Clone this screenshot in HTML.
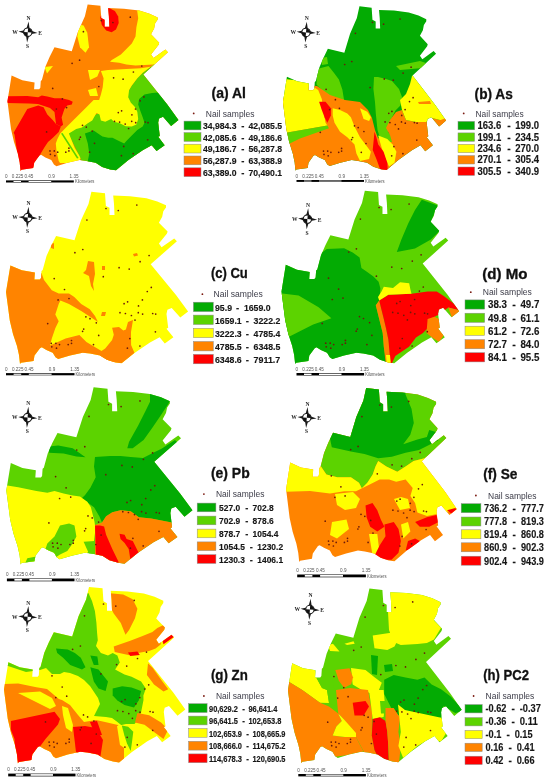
<!DOCTYPE html>
<html><head><meta charset="utf-8"><style>
html,body{margin:0;padding:0;background:#fff;}
svg{display:block;filter:blur(0.35px);}
</style></head><body>
<svg width="550" height="781" viewBox="0 0 550 781" shape-rendering="geometricPrecision">
<rect width="550" height="781" fill="#fff"/>
<clipPath id="clipa"><polygon transform="matrix(0.9391,0,0,0.9673,1.8,-181.13)" points="91.4,191.8 105.0,193.2 105.9,205.9 109.5,207.7 109.5,215.0 114.5,215.0 114.0,204.0 113.2,195.5 130.0,196.2 146.4,198.2 157.3,201.5 166.0,205.3 166.0,207.5 163.3,211.3 162.2,216.7 158.9,222.7 167.6,231.5 167.0,233.6 158.9,243.5 161.6,247.3 174.2,238.5 176.9,241.3 150.7,264.2 176.0,295.0 188.1,311.4 180.3,317.5 171.7,308.0 167.4,309.7 166.5,314.0 168.2,327.8 166.5,328.7 173.4,337.3 164.8,343.4 159.6,337.3 150.0,342.5 134.5,352.9 121.6,363.2 115.5,362.4 106.9,359.8 100.0,355.5 90.0,353.6 82.7,352.7 70.0,355.5 58.2,359.0 55.5,357.3 52.7,352.7 46.4,350.0 41.8,347.3 40.0,348.2 34.5,355.5 33.6,360.9 20.9,362.7 20.0,364.0 19.0,355.0 17.0,346.0 13.0,334.0 9.8,320.5 6.0,292.0 10.4,265.4 21.8,270.3 34.9,272.5 34.4,279.5 39.8,279.5 41.0,278.0 41.5,271.0 42.7,270.0 46.5,256.0 51.0,246.0 56.1,236.1 74.5,240.3 80.9,220.5 88.5,204.0"/></clipPath>
<g clip-path="url(#clipa)">
<rect x="0" y="0" width="550" height="781" fill="#ff8400"/>
<polygon points="153.6,64.5 180.0,60.0 200.0,120.0 200.0,190.0 84.0,190.0 80.5,158.2 68.0,133.0 90.0,118.0 120.0,100.0 129.1,90.0 131.8,85.5 137.3,78.2 142.7,72.7" fill="#5cd300"/>
<polygon points="144.5,94.5 139.1,99.1 138.2,104.5 140.0,110.0 142.7,117.3 144.5,122.7 142.7,126.4 137.3,130.0 131.8,135.5 126.4,140.9 124.2,143.6 118.4,140.7 112.5,137.8 108.2,137.8 102.4,136.4 98.0,133.5 93.6,130.5 89.3,132.0 84.9,133.5 87.8,143.6 89.3,153.8 87.8,161.1 85.0,190.0 200.0,190.0 200.0,100.0 165.0,92.0 152.0,93.0" fill="#03ab03"/>
<polygon points="136.4,5.0 138.2,18.2 136.4,27.3 135.5,36.4 131.8,43.6 126.4,49.1 120.9,54.5 111.8,60.0 110.0,61.8 119.1,62.7 126.4,64.5 135.5,65.5 144.5,65.1 153.6,64.5 175.0,60.0 190.0,30.0 175.0,0.0" fill="#ffff00"/>
<polygon points="55.8,143.6 57.3,139.3 60.2,133.5 66.0,127.6 71.8,121.8 79.1,114.5 84.9,108.7 93.6,100.0 99.1,100.0 100.9,94.5 102.7,87.3 103.6,78.2 100.9,70.9 108.0,70.0 126.4,69.1 140.9,68.2 151.8,66.4 153.6,64.5 142.7,72.7 137.3,78.2 131.8,85.5 129.1,90.0 128.2,97.3 130.9,102.7 134.5,106.4 137.3,111.8 138.2,119.1 136.4,124.5 131.8,126.4 125.6,126.2 119.8,123.3 114.0,121.8 111.1,118.9 105.3,121.8 100.9,120.4 99.5,114.5 96.5,113.1 92.2,120.4 87.8,123.3 82.0,127.6 76.2,129.1 68.9,133.5 71.8,140.7 74.7,148.0 79.1,155.3 80.5,158.2 78.0,163.0 60.0,163.0 58.7,161.1 56.5,150.9" fill="#ffff00"/>
<polygon points="61.0,133.5 62.6,133.0 78.6,158.0 77.0,158.6" fill="#5cd300"/>
<polygon points="88.0,70.0 100.0,70.0 97.3,76.4 90.0,80.0" fill="#ffff00"/>
<polygon points="44.5,67.0 53.0,66.0 47.0,73.5" fill="#ffff00"/>
<polygon points="88.0,90.0 96.0,88.0 98.0,96.0 90.0,96.0" fill="#ffff00"/>
<polygon points="79.0,24.5 83.6,25.5 87.3,32.7 89.0,47.3 85.5,52.7 80.0,47.3 77.3,36.4" fill="#ffff00"/>
<polygon points="0.0,96.4 27.3,96.0 38.2,97.3 41.8,95.5 47.3,96.4 54.5,98.2 61.8,98.2 69.1,100.0 72.7,101.8 71.8,104.5 67.3,105.5 64.5,108.7 61.6,117.5 63.1,124.7 60.9,126.4 56.0,124.0 54.5,112.0 50.0,108.0 44.0,106.0 38.0,104.0 29.0,103.6 0.0,102.7" fill="#ff0000"/>
<polygon points="13.6,132.7 27.3,109.1 38.2,105.5 43.6,107.3 47.3,114.5 52.7,120.0 56.0,124.0 60.9,126.4 58.7,132.0 52.9,137.8 48.0,142.0 44.5,147.3 41.8,151.8 39.0,156.4 36.4,160.0 34.5,165.5 32.7,169.1 20.0,175.0 18.0,158.0 14.5,134.5" fill="#ff0000"/>
<polygon points="100.2,17.5 101.8,25.1 106.2,30.5 111.6,32.2 116.0,29.5 118.7,22.9 118.2,16.4 114.9,10.9 109.5,8.2 104.0,8.0" fill="#ff0000"/>
</g>
<circle cx="101.3" cy="20.6" r="0.85" fill="#6b1a0a"/>
<circle cx="112.9" cy="22.5" r="0.85" fill="#6b1a0a"/>
<circle cx="130.3" cy="17.2" r="0.85" fill="#6b1a0a"/>
<circle cx="83.4" cy="31.7" r="0.85" fill="#6b1a0a"/>
<circle cx="79.6" cy="60.2" r="0.85" fill="#6b1a0a"/>
<circle cx="72.1" cy="63.3" r="0.85" fill="#6b1a0a"/>
<circle cx="141.8" cy="66.0" r="0.85" fill="#6b1a0a"/>
<circle cx="133.4" cy="72.0" r="0.85" fill="#6b1a0a"/>
<circle cx="113.6" cy="77.8" r="0.85" fill="#6b1a0a"/>
<circle cx="123.1" cy="79.2" r="0.85" fill="#6b1a0a"/>
<circle cx="98.8" cy="86.5" r="0.85" fill="#6b1a0a"/>
<circle cx="52.7" cy="88.4" r="0.85" fill="#6b1a0a"/>
<circle cx="143.9" cy="96.9" r="0.85" fill="#6b1a0a"/>
<circle cx="62.4" cy="98.9" r="0.85" fill="#6b1a0a"/>
<circle cx="56.4" cy="109.0" r="0.85" fill="#6b1a0a"/>
<circle cx="66.6" cy="107.6" r="0.85" fill="#6b1a0a"/>
<circle cx="140.1" cy="100.8" r="0.85" fill="#6b1a0a"/>
<circle cx="135.5" cy="109.0" r="0.85" fill="#6b1a0a"/>
<circle cx="118.3" cy="112.6" r="0.85" fill="#6b1a0a"/>
<circle cx="121.6" cy="110.8" r="0.85" fill="#6b1a0a"/>
<circle cx="131.9" cy="114.8" r="0.85" fill="#6b1a0a"/>
<circle cx="114.5" cy="121.3" r="0.85" fill="#6b1a0a"/>
<circle cx="119.6" cy="122.1" r="0.85" fill="#6b1a0a"/>
<circle cx="125.2" cy="124.1" r="0.85" fill="#6b1a0a"/>
<circle cx="131.7" cy="121.3" r="0.85" fill="#6b1a0a"/>
<circle cx="135.7" cy="122.7" r="0.85" fill="#6b1a0a"/>
<circle cx="145.2" cy="122.1" r="0.85" fill="#6b1a0a"/>
<circle cx="148.0" cy="122.7" r="0.85" fill="#6b1a0a"/>
<circle cx="128.6" cy="128.5" r="0.85" fill="#6b1a0a"/>
<circle cx="82.5" cy="125.3" r="0.85" fill="#6b1a0a"/>
<circle cx="86.3" cy="127.1" r="0.85" fill="#6b1a0a"/>
<circle cx="92.2" cy="131.1" r="0.85" fill="#6b1a0a"/>
<circle cx="46.6" cy="131.9" r="0.85" fill="#6b1a0a"/>
<circle cx="80.4" cy="137.2" r="0.85" fill="#6b1a0a"/>
<circle cx="79.4" cy="139.3" r="0.85" fill="#6b1a0a"/>
<circle cx="94.5" cy="143.3" r="0.85" fill="#6b1a0a"/>
<circle cx="147.7" cy="139.8" r="0.85" fill="#6b1a0a"/>
<circle cx="123.7" cy="146.4" r="0.85" fill="#6b1a0a"/>
<circle cx="50.0" cy="150.9" r="0.85" fill="#6b1a0a"/>
<circle cx="54.3" cy="150.9" r="0.85" fill="#6b1a0a"/>
<circle cx="57.7" cy="152.2" r="0.85" fill="#6b1a0a"/>
<circle cx="50.4" cy="154.3" r="0.85" fill="#6b1a0a"/>
<circle cx="54.9" cy="155.7" r="0.85" fill="#6b1a0a"/>
<circle cx="65.8" cy="152.2" r="0.85" fill="#6b1a0a"/>
<circle cx="68.9" cy="148.2" r="0.85" fill="#6b1a0a"/>
<circle cx="68.9" cy="150.9" r="0.85" fill="#6b1a0a"/>
<circle cx="89.6" cy="152.2" r="0.85" fill="#6b1a0a"/>
<circle cx="133.2" cy="153.6" r="0.85" fill="#6b1a0a"/>
<circle cx="121.4" cy="155.7" r="0.85" fill="#6b1a0a"/>
<clipPath id="clipb"><polygon transform="matrix(0.8957,0,0,0.9554,277.6,-176.9)" points="91.4,191.8 105.0,193.2 105.9,205.9 109.5,207.7 109.5,215.0 114.5,215.0 114.0,204.0 113.2,195.5 130.0,196.2 146.4,198.2 157.3,201.5 166.0,205.3 166.0,207.5 163.3,211.3 162.2,216.7 158.9,222.7 167.6,231.5 167.0,233.6 158.9,243.5 161.6,247.3 174.2,238.5 176.9,241.3 150.7,264.2 176.0,295.0 188.1,311.4 180.3,317.5 171.7,308.0 167.4,309.7 166.5,314.0 168.2,327.8 166.5,328.7 173.4,337.3 164.8,343.4 159.6,337.3 150.0,342.5 134.5,352.9 121.6,363.2 115.5,362.4 106.9,359.8 100.0,355.5 90.0,353.6 82.7,352.7 70.0,355.5 58.2,359.0 55.5,357.3 52.7,352.7 46.4,350.0 41.8,347.3 40.0,348.2 34.5,355.5 33.6,360.9 20.9,362.7 20.0,364.0 19.0,355.0 17.0,346.0 13.0,334.0 9.8,320.5 6.0,292.0 10.4,265.4 21.8,270.3 34.9,272.5 34.4,279.5 39.8,279.5 41.0,278.0 41.5,271.0 42.7,270.0 46.5,256.0 51.0,246.0 56.1,236.1 74.5,240.3 80.9,220.5 88.5,204.0"/></clipPath>
<g clip-path="url(#clipb)">
<rect x="0" y="0" width="550" height="781" fill="#03ab03"/>
<polygon points="317.0,69.0 328.5,66.0 333.7,72.5 338.9,79.4 342.4,89.8 344.1,100.2 338.9,103.6 330.3,96.7 321.6,89.8 316.5,84.6" fill="#5cd300"/>
<polygon points="321.0,58.0 327.0,57.0 328.0,64.0 322.0,65.0" fill="#5cd300"/>
<polygon points="374.0,77.0 378.0,77.0 386.0,79.0 392.0,81.0 399.0,89.0 402.0,97.0 400.4,105.5 395.5,110.4 392.2,116.9 388.9,125.1 388.0,132.0 392.0,136.0 392.0,142.0 389.0,144.0 386.0,140.0 380.0,138.0 377.5,130.0 375.8,113.6 375.0,102.2 373.4,89.1" fill="#5cd300"/>
<polygon points="396.0,66.0 420.0,61.0 426.0,63.0 423.0,68.0 400.0,70.0" fill="#5cd300"/>
<polygon points="280.0,100.0 300.0,85.0 317.0,86.0 330.0,95.0 345.0,100.0 360.0,102.0 368.0,110.0 372.0,118.0 375.0,130.0 378.0,138.0 386.0,142.0 392.0,142.0 390.0,135.0 386.0,128.0 390.0,120.0 396.0,112.0 402.0,110.0 406.0,120.0 416.0,122.0 426.0,122.0 432.0,118.0 440.0,120.0 460.0,130.0 440.0,190.0 280.0,190.0" fill="#ff8400"/>
<polygon points="270.0,77.0 307.7,81.8 315.0,88.0 318.2,90.0 321.8,99.1 323.6,111.8 325.5,122.7 327.3,125.5 286.0,132.7 270.0,133.0" fill="#ffff00"/>
<polygon points="270.0,133.0 286.0,132.7 327.3,125.5 329.0,128.2 300.0,138.5 287.7,144.5 270.0,146.0" fill="#5cd300"/>
<polygon points="400.0,100.0 406.0,94.0 410.0,84.0 412.0,76.0 420.0,72.0 440.0,100.0 450.0,120.0 440.0,120.0 432.0,118.0 426.0,122.0 416.0,122.0 406.0,120.0 402.0,110.0" fill="#ffff00"/>
<polygon points="438.0,121.0 446.0,118.0 450.0,124.0 441.0,128.0" fill="#ff8400"/>
<polygon points="418.0,102.0 430.0,101.0 431.0,104.0 419.0,104.0" fill="#ff8400"/>
<polygon points="332.7,108.2 340.0,110.0 347.3,113.6 350.9,117.3 354.5,126.4 360.0,137.3 365.5,144.5 370.9,151.8 369.1,159.1 360.0,160.9 356.4,153.6 354.5,144.5 347.3,137.3 340.0,131.8 334.5,122.7 332.7,115.5" fill="#ffff00"/>
<polygon points="360.0,108.2 367.3,111.8 370.9,117.3 369.1,120.9 363.6,119.1" fill="#ffff00"/>
<polygon points="378.2,135.5 387.3,139.1 392.7,144.5 396.4,151.8 394.5,162.7 389.1,166.4 385.5,159.1 381.8,148.2" fill="#ffff00"/>
<polygon points="319.1,101.8 325.5,101.8 330.9,108.2 330.9,115.5 327.3,122.7 324.5,117.3 321.8,110.0" fill="#ff0000"/>
<polygon points="374.5,131.8 376.4,137.3 378.2,144.5 383.6,151.8 387.3,162.7 388.0,174.0 381.8,174.0 376.4,159.1 372.7,150.0 373.6,140.9" fill="#ff0000"/>
</g>
<circle cx="372.5" cy="22.3" r="0.85" fill="#6b1a0a"/>
<circle cx="383.6" cy="24.2" r="0.85" fill="#6b1a0a"/>
<circle cx="400.1" cy="19.0" r="0.85" fill="#6b1a0a"/>
<circle cx="355.4" cy="33.3" r="0.85" fill="#6b1a0a"/>
<circle cx="351.8" cy="61.5" r="0.85" fill="#6b1a0a"/>
<circle cx="344.7" cy="64.5" r="0.85" fill="#6b1a0a"/>
<circle cx="411.1" cy="67.2" r="0.85" fill="#6b1a0a"/>
<circle cx="403.1" cy="73.1" r="0.85" fill="#6b1a0a"/>
<circle cx="384.3" cy="78.9" r="0.85" fill="#6b1a0a"/>
<circle cx="393.3" cy="80.2" r="0.85" fill="#6b1a0a"/>
<circle cx="370.1" cy="87.5" r="0.85" fill="#6b1a0a"/>
<circle cx="326.1" cy="89.3" r="0.85" fill="#6b1a0a"/>
<circle cx="413.1" cy="97.7" r="0.85" fill="#6b1a0a"/>
<circle cx="335.4" cy="99.7" r="0.85" fill="#6b1a0a"/>
<circle cx="329.6" cy="109.6" r="0.85" fill="#6b1a0a"/>
<circle cx="339.4" cy="108.3" r="0.85" fill="#6b1a0a"/>
<circle cx="409.5" cy="101.6" r="0.85" fill="#6b1a0a"/>
<circle cx="405.1" cy="109.6" r="0.85" fill="#6b1a0a"/>
<circle cx="388.8" cy="113.3" r="0.85" fill="#6b1a0a"/>
<circle cx="391.9" cy="111.4" r="0.85" fill="#6b1a0a"/>
<circle cx="401.7" cy="115.4" r="0.85" fill="#6b1a0a"/>
<circle cx="385.1" cy="121.9" r="0.85" fill="#6b1a0a"/>
<circle cx="389.9" cy="122.6" r="0.85" fill="#6b1a0a"/>
<circle cx="395.3" cy="124.5" r="0.85" fill="#6b1a0a"/>
<circle cx="401.5" cy="121.9" r="0.85" fill="#6b1a0a"/>
<circle cx="405.3" cy="123.2" r="0.85" fill="#6b1a0a"/>
<circle cx="414.4" cy="122.6" r="0.85" fill="#6b1a0a"/>
<circle cx="417.1" cy="123.2" r="0.85" fill="#6b1a0a"/>
<circle cx="398.5" cy="128.9" r="0.85" fill="#6b1a0a"/>
<circle cx="354.5" cy="125.8" r="0.85" fill="#6b1a0a"/>
<circle cx="358.2" cy="127.6" r="0.85" fill="#6b1a0a"/>
<circle cx="363.9" cy="131.5" r="0.85" fill="#6b1a0a"/>
<circle cx="320.3" cy="132.3" r="0.85" fill="#6b1a0a"/>
<circle cx="352.6" cy="137.5" r="0.85" fill="#6b1a0a"/>
<circle cx="351.6" cy="139.6" r="0.85" fill="#6b1a0a"/>
<circle cx="366.0" cy="143.5" r="0.85" fill="#6b1a0a"/>
<circle cx="416.8" cy="140.1" r="0.85" fill="#6b1a0a"/>
<circle cx="393.9" cy="146.6" r="0.85" fill="#6b1a0a"/>
<circle cx="323.5" cy="151.1" r="0.85" fill="#6b1a0a"/>
<circle cx="327.7" cy="151.1" r="0.85" fill="#6b1a0a"/>
<circle cx="330.9" cy="152.3" r="0.85" fill="#6b1a0a"/>
<circle cx="324.0" cy="154.4" r="0.85" fill="#6b1a0a"/>
<circle cx="328.2" cy="155.8" r="0.85" fill="#6b1a0a"/>
<circle cx="338.7" cy="152.3" r="0.85" fill="#6b1a0a"/>
<circle cx="341.6" cy="148.4" r="0.85" fill="#6b1a0a"/>
<circle cx="341.6" cy="151.1" r="0.85" fill="#6b1a0a"/>
<circle cx="361.3" cy="152.3" r="0.85" fill="#6b1a0a"/>
<circle cx="402.9" cy="153.7" r="0.85" fill="#6b1a0a"/>
<circle cx="391.7" cy="155.8" r="0.85" fill="#6b1a0a"/>
<clipPath id="clipc"><polygon transform="matrix(1.0,0,0,1.0,0.0,0.0)" points="91.4,191.8 105.0,193.2 105.9,205.9 109.5,207.7 109.5,215.0 114.5,215.0 114.0,204.0 113.2,195.5 130.0,196.2 146.4,198.2 157.3,201.5 166.0,205.3 166.0,207.5 163.3,211.3 162.2,216.7 158.9,222.7 167.6,231.5 167.0,233.6 158.9,243.5 161.6,247.3 174.2,238.5 176.9,241.3 150.7,264.2 176.0,295.0 188.1,311.4 180.3,317.5 171.7,308.0 167.4,309.7 166.5,314.0 168.2,327.8 166.5,328.7 173.4,337.3 164.8,343.4 159.6,337.3 150.0,342.5 134.5,352.9 121.6,363.2 115.5,362.4 106.9,359.8 100.0,355.5 90.0,353.6 82.7,352.7 70.0,355.5 58.2,359.0 55.5,357.3 52.7,352.7 46.4,350.0 41.8,347.3 40.0,348.2 34.5,355.5 33.6,360.9 20.9,362.7 20.0,364.0 19.0,355.0 17.0,346.0 13.0,334.0 9.8,320.5 6.0,292.0 10.4,265.4 21.8,270.3 34.9,272.5 34.4,279.5 39.8,279.5 41.0,278.0 41.5,271.0 42.7,270.0 46.5,256.0 51.0,246.0 56.1,236.1 74.5,240.3 80.9,220.5 88.5,204.0"/></clipPath>
<g clip-path="url(#clipc)">
<rect x="0" y="0" width="550" height="781" fill="#ffff00"/>
<polygon points="0.0,260.0 41.5,272.9 44.0,280.0 51.8,290.2 58.7,293.6 69.0,293.6 74.3,297.1 81.2,304.0 89.8,309.2 95.0,316.0 98.0,322.0 92.0,318.0 81.2,310.9 69.0,304.0 60.4,300.5 58.7,304.0 55.3,314.4 58.7,321.3 55.3,328.2 51.8,338.5 50.0,345.4 65.6,338.5 79.4,335.0 86.4,342.0 103.6,352.3 114.0,359.3 114.0,370.0 0.0,370.0" fill="#ff8400"/>
<polygon points="100.0,352.0 105.2,348.6 112.1,339.9 113.8,334.7 112.1,327.8 119.0,327.0 123.3,330.4 125.9,329.5 128.0,322.0 133.0,320.0 131.0,332.0 131.1,345.1 134.5,352.9 122.5,363.2 100.0,365.0" fill="#ff8400"/>
<polygon points="88.0,261.0 94.0,262.0 95.0,274.0 93.0,284.0 94.0,291.0 91.0,286.0 89.0,276.0 83.0,273.0 86.0,270.0" fill="#ff8400"/>
<polygon points="51.0,244.0 54.0,243.0 54.0,249.0 51.0,248.0" fill="#ff8400"/>
<polygon points="102.0,312.0 106.0,312.0 105.0,316.0 101.0,316.0" fill="#ff8400"/>
<polygon points="133.0,254.0 137.0,253.0 138.0,255.5 134.0,256.5" fill="#ff8400"/>
<polygon points="102.0,266.0 105.0,266.0 105.0,270.0 102.0,270.0" fill="#ff8400"/>
</g>
<circle cx="106.0" cy="208.5" r="0.85" fill="#6b1a0a"/>
<circle cx="118.3" cy="210.5" r="0.85" fill="#6b1a0a"/>
<circle cx="136.8" cy="205.0" r="0.85" fill="#6b1a0a"/>
<circle cx="86.9" cy="220.0" r="0.85" fill="#6b1a0a"/>
<circle cx="82.8" cy="249.5" r="0.85" fill="#6b1a0a"/>
<circle cx="74.9" cy="252.7" r="0.85" fill="#6b1a0a"/>
<circle cx="149.1" cy="255.5" r="0.85" fill="#6b1a0a"/>
<circle cx="140.1" cy="261.7" r="0.85" fill="#6b1a0a"/>
<circle cx="119.1" cy="267.7" r="0.85" fill="#6b1a0a"/>
<circle cx="129.2" cy="269.1" r="0.85" fill="#6b1a0a"/>
<circle cx="103.3" cy="276.7" r="0.85" fill="#6b1a0a"/>
<circle cx="54.2" cy="278.6" r="0.85" fill="#6b1a0a"/>
<circle cx="151.3" cy="287.4" r="0.85" fill="#6b1a0a"/>
<circle cx="64.5" cy="289.5" r="0.85" fill="#6b1a0a"/>
<circle cx="58.1" cy="299.9" r="0.85" fill="#6b1a0a"/>
<circle cx="69.0" cy="298.5" r="0.85" fill="#6b1a0a"/>
<circle cx="147.3" cy="291.5" r="0.85" fill="#6b1a0a"/>
<circle cx="142.4" cy="299.9" r="0.85" fill="#6b1a0a"/>
<circle cx="124.1" cy="303.7" r="0.85" fill="#6b1a0a"/>
<circle cx="127.6" cy="301.8" r="0.85" fill="#6b1a0a"/>
<circle cx="138.5" cy="305.9" r="0.85" fill="#6b1a0a"/>
<circle cx="120.0" cy="312.7" r="0.85" fill="#6b1a0a"/>
<circle cx="125.4" cy="313.5" r="0.85" fill="#6b1a0a"/>
<circle cx="131.4" cy="315.5" r="0.85" fill="#6b1a0a"/>
<circle cx="138.3" cy="312.7" r="0.85" fill="#6b1a0a"/>
<circle cx="142.6" cy="314.1" r="0.85" fill="#6b1a0a"/>
<circle cx="152.7" cy="313.5" r="0.85" fill="#6b1a0a"/>
<circle cx="155.7" cy="314.1" r="0.85" fill="#6b1a0a"/>
<circle cx="135.0" cy="320.1" r="0.85" fill="#6b1a0a"/>
<circle cx="85.9" cy="316.8" r="0.85" fill="#6b1a0a"/>
<circle cx="90.0" cy="318.7" r="0.85" fill="#6b1a0a"/>
<circle cx="96.3" cy="322.8" r="0.85" fill="#6b1a0a"/>
<circle cx="47.7" cy="323.6" r="0.85" fill="#6b1a0a"/>
<circle cx="83.7" cy="329.1" r="0.85" fill="#6b1a0a"/>
<circle cx="82.6" cy="331.3" r="0.85" fill="#6b1a0a"/>
<circle cx="98.7" cy="335.4" r="0.85" fill="#6b1a0a"/>
<circle cx="155.4" cy="331.8" r="0.85" fill="#6b1a0a"/>
<circle cx="129.8" cy="338.6" r="0.85" fill="#6b1a0a"/>
<circle cx="51.3" cy="343.3" r="0.85" fill="#6b1a0a"/>
<circle cx="55.9" cy="343.3" r="0.85" fill="#6b1a0a"/>
<circle cx="59.5" cy="344.6" r="0.85" fill="#6b1a0a"/>
<circle cx="51.8" cy="346.8" r="0.85" fill="#6b1a0a"/>
<circle cx="56.5" cy="348.2" r="0.85" fill="#6b1a0a"/>
<circle cx="68.2" cy="344.6" r="0.85" fill="#6b1a0a"/>
<circle cx="71.5" cy="340.5" r="0.85" fill="#6b1a0a"/>
<circle cx="71.5" cy="343.3" r="0.85" fill="#6b1a0a"/>
<circle cx="93.5" cy="344.6" r="0.85" fill="#6b1a0a"/>
<circle cx="139.9" cy="346.0" r="0.85" fill="#6b1a0a"/>
<circle cx="127.4" cy="348.2" r="0.85" fill="#6b1a0a"/>
<clipPath id="clipd"><polygon transform="matrix(0.9757,0,0,1.0069,275.64,-2.42)" points="91.4,191.8 105.0,193.2 105.9,205.9 109.5,207.7 109.5,215.0 114.5,215.0 114.0,204.0 113.2,195.5 130.0,196.2 146.4,198.2 157.3,201.5 166.0,205.3 166.0,207.5 163.3,211.3 162.2,216.7 158.9,222.7 167.6,231.5 167.0,233.6 158.9,243.5 161.6,247.3 174.2,238.5 176.9,241.3 150.7,264.2 176.0,295.0 188.1,311.4 180.3,317.5 171.7,308.0 167.4,309.7 166.5,314.0 168.2,327.8 166.5,328.7 173.4,337.3 164.8,343.4 159.6,337.3 150.0,342.5 134.5,352.9 121.6,363.2 115.5,362.4 106.9,359.8 100.0,355.5 90.0,353.6 82.7,352.7 70.0,355.5 58.2,359.0 55.5,357.3 52.7,352.7 46.4,350.0 41.8,347.3 40.0,348.2 34.5,355.5 33.6,360.9 20.9,362.7 20.0,364.0 19.0,355.0 17.0,346.0 13.0,334.0 9.8,320.5 6.0,292.0 10.4,265.4 21.8,270.3 34.9,272.5 34.4,279.5 39.8,279.5 41.0,278.0 41.5,271.0 42.7,270.0 46.5,256.0 51.0,246.0 56.1,236.1 74.5,240.3 80.9,220.5 88.5,204.0"/></clipPath>
<g clip-path="url(#clipd)">
<rect x="0" y="0" width="550" height="781" fill="#5cd300"/>
<polygon points="270.0,261.0 319.9,254.1 326.8,248.9 344.1,248.2 352.7,252.4 359.6,257.5 361.4,267.9 366.5,271.4 373.4,276.5 378.6,281.7 380.4,288.6 379.2,300.6 375.8,305.2 379.2,319.0 382.7,332.9 383.8,346.7 386.0,360.5 386.0,375.0 270.0,375.0" fill="#03ab03"/>
<polygon points="282.3,293.6 298.6,295.5 318.6,307.3 331.4,318.2 313.2,324.5 289.5,336.4 283.2,334.5 270.0,334.0 270.0,293.0" fill="#5cd300"/>
<polygon points="421.8,199.8 437.7,205.5 430.9,221.4 440.0,230.5 430.9,239.5 415.0,248.6 396.8,252.0 401.4,239.5 408.2,223.6 415.0,210.0" fill="#03ab03"/>
<polygon points="375.8,305.2 379.2,300.6 381.5,309.8 383.8,319.0 386.0,328.2 388.4,339.8 390.7,351.3 391.9,366.0 386.0,366.0 383.8,346.7 382.7,332.9 379.2,319.0" fill="#ff8400"/>
<polygon points="379.2,300.6 388.4,294.8 411.5,293.7 427.6,291.4 436.8,291.4 443.7,296.0 453.0,302.9 462.0,311.0 448.3,307.5 439.0,314.4 430.0,319.0 427.6,328.2 423.0,332.9 416.0,337.5 409.0,346.7 402.3,351.3 395.3,356.0 390.7,366.0 388.4,339.8 386.0,328.2 383.8,319.0 381.5,309.8" fill="#ff0000"/>
<polygon points="427.6,319.0 434.5,316.7 439.0,319.0 441.4,328.2 443.7,335.2 439.1,342.1 432.2,337.5 426.5,332.9" fill="#ff8400"/>
<polygon points="448.3,307.5 462.0,311.0 464.0,318.0 452.0,318.0" fill="#ff8400"/>
<polygon points="381.5,291.4 383.8,286.8 393.0,288.0 400.0,282.2 409.2,283.3 410.3,289.1 411.5,293.7 388.4,294.8 379.2,300.6 378.0,297.0" fill="#ffff00"/>
<polygon points="386.0,355.0 390.0,355.0 391.0,366.0 387.0,366.0" fill="#ffff00"/>
</g>
<circle cx="379.1" cy="207.5" r="0.85" fill="#6b1a0a"/>
<circle cx="391.1" cy="209.5" r="0.85" fill="#6b1a0a"/>
<circle cx="409.1" cy="204.0" r="0.85" fill="#6b1a0a"/>
<circle cx="360.4" cy="219.1" r="0.85" fill="#6b1a0a"/>
<circle cx="356.4" cy="248.8" r="0.85" fill="#6b1a0a"/>
<circle cx="348.7" cy="252.0" r="0.85" fill="#6b1a0a"/>
<circle cx="421.1" cy="254.8" r="0.85" fill="#6b1a0a"/>
<circle cx="412.3" cy="261.1" r="0.85" fill="#6b1a0a"/>
<circle cx="391.8" cy="267.1" r="0.85" fill="#6b1a0a"/>
<circle cx="401.7" cy="268.5" r="0.85" fill="#6b1a0a"/>
<circle cx="376.4" cy="276.2" r="0.85" fill="#6b1a0a"/>
<circle cx="328.5" cy="278.1" r="0.85" fill="#6b1a0a"/>
<circle cx="423.3" cy="287.0" r="0.85" fill="#6b1a0a"/>
<circle cx="338.6" cy="289.1" r="0.85" fill="#6b1a0a"/>
<circle cx="332.3" cy="299.5" r="0.85" fill="#6b1a0a"/>
<circle cx="343.0" cy="298.1" r="0.85" fill="#6b1a0a"/>
<circle cx="419.4" cy="291.1" r="0.85" fill="#6b1a0a"/>
<circle cx="414.6" cy="299.5" r="0.85" fill="#6b1a0a"/>
<circle cx="396.7" cy="303.4" r="0.85" fill="#6b1a0a"/>
<circle cx="400.1" cy="301.5" r="0.85" fill="#6b1a0a"/>
<circle cx="410.8" cy="305.6" r="0.85" fill="#6b1a0a"/>
<circle cx="392.7" cy="312.4" r="0.85" fill="#6b1a0a"/>
<circle cx="398.0" cy="313.2" r="0.85" fill="#6b1a0a"/>
<circle cx="403.8" cy="315.3" r="0.85" fill="#6b1a0a"/>
<circle cx="410.6" cy="312.4" r="0.85" fill="#6b1a0a"/>
<circle cx="414.8" cy="313.8" r="0.85" fill="#6b1a0a"/>
<circle cx="424.6" cy="313.2" r="0.85" fill="#6b1a0a"/>
<circle cx="427.6" cy="313.8" r="0.85" fill="#6b1a0a"/>
<circle cx="407.4" cy="319.9" r="0.85" fill="#6b1a0a"/>
<circle cx="359.5" cy="316.6" r="0.85" fill="#6b1a0a"/>
<circle cx="363.5" cy="318.5" r="0.85" fill="#6b1a0a"/>
<circle cx="369.6" cy="322.6" r="0.85" fill="#6b1a0a"/>
<circle cx="322.2" cy="323.4" r="0.85" fill="#6b1a0a"/>
<circle cx="357.3" cy="329.0" r="0.85" fill="#6b1a0a"/>
<circle cx="356.2" cy="331.2" r="0.85" fill="#6b1a0a"/>
<circle cx="371.9" cy="335.3" r="0.85" fill="#6b1a0a"/>
<circle cx="427.3" cy="331.7" r="0.85" fill="#6b1a0a"/>
<circle cx="402.3" cy="338.5" r="0.85" fill="#6b1a0a"/>
<circle cx="325.7" cy="343.2" r="0.85" fill="#6b1a0a"/>
<circle cx="330.2" cy="343.2" r="0.85" fill="#6b1a0a"/>
<circle cx="333.7" cy="344.6" r="0.85" fill="#6b1a0a"/>
<circle cx="326.2" cy="346.8" r="0.85" fill="#6b1a0a"/>
<circle cx="330.8" cy="348.2" r="0.85" fill="#6b1a0a"/>
<circle cx="342.2" cy="344.6" r="0.85" fill="#6b1a0a"/>
<circle cx="345.4" cy="340.4" r="0.85" fill="#6b1a0a"/>
<circle cx="345.4" cy="343.2" r="0.85" fill="#6b1a0a"/>
<circle cx="366.9" cy="344.6" r="0.85" fill="#6b1a0a"/>
<circle cx="412.1" cy="346.0" r="0.85" fill="#6b1a0a"/>
<circle cx="399.9" cy="348.2" r="0.85" fill="#6b1a0a"/>
<clipPath id="clipe"><polygon transform="matrix(1.0223,0,0,1.0284,0.17,190.12)" points="91.4,191.8 105.0,193.2 105.9,205.9 109.5,207.7 109.5,215.0 114.5,215.0 114.0,204.0 113.2,195.5 130.0,196.2 146.4,198.2 157.3,201.5 166.0,205.3 166.0,207.5 163.3,211.3 162.2,216.7 158.9,222.7 167.6,231.5 167.0,233.6 158.9,243.5 161.6,247.3 174.2,238.5 176.9,241.3 150.7,264.2 176.0,295.0 188.1,311.4 180.3,317.5 171.7,308.0 167.4,309.7 166.5,314.0 168.2,327.8 166.5,328.7 173.4,337.3 164.8,343.4 159.6,337.3 150.0,342.5 134.5,352.9 121.6,363.2 115.5,362.4 106.9,359.8 100.0,355.5 90.0,353.6 82.7,352.7 70.0,355.5 58.2,359.0 55.5,357.3 52.7,352.7 46.4,350.0 41.8,347.3 40.0,348.2 34.5,355.5 33.6,360.9 20.9,362.7 20.0,364.0 19.0,355.0 17.0,346.0 13.0,334.0 9.8,320.5 6.0,292.0 10.4,265.4 21.8,270.3 34.9,272.5 34.4,279.5 39.8,279.5 41.0,278.0 41.5,271.0 42.7,270.0 46.5,256.0 51.0,246.0 56.1,236.1 74.5,240.3 80.9,220.5 88.5,204.0"/></clipPath>
<g clip-path="url(#clipe)">
<rect x="0" y="0" width="550" height="781" fill="#5cd300"/>
<polygon points="150.0,388.0 176.0,390.0 170.0,400.9 167.3,405.5 160.0,416.4 152.7,427.3 143.6,440.0 132.7,448.2 127.3,448.2 129.1,441.8 138.2,425.5 145.5,410.9 150.0,401.8" fill="#03ab03"/>
<polygon points="49.1,446.4 58.2,445.5 72.7,448.2 85.5,457.3 76.4,456.4 63.6,453.6 49.1,452.7" fill="#03ab03"/>
<polygon points="95.0,456.9 110.2,455.9 120.5,455.9 130.7,456.9 143.0,457.9 153.3,452.8 161.5,448.7 175.0,440.0 205.0,470.0 205.0,530.0 172.7,526.6 171.7,522.5 161.5,520.4 151.2,518.4 138.9,517.3 130.7,511.2 120.5,510.2 112.3,512.2 106.1,516.3 102.0,522.5 99.3,516.2 94.0,507.3 86.9,502.0 81.5,498.5 85.1,494.9 90.4,487.8 95.7,477.2 94.0,466.5" fill="#03ab03"/>
<polygon points="0.0,485.5 7.3,485.5 18.2,487.3 36.4,490.9 47.3,492.7 54.5,490.9 63.6,493.6 72.7,495.5 80.0,496.4 87.3,501.8 90.9,507.3 92.7,514.5 94.5,521.8 95.5,529.1 94.0,541.0 88.6,551.6 80.0,560.0 60.0,575.0 0.0,575.0" fill="#ffff00"/>
<polygon points="60.0,525.5 69.1,523.6 74.5,525.5 76.4,536.4 72.7,543.6 67.3,550.9 60.0,554.5 54.5,558.2 45.5,549.1 47.3,543.6 54.5,536.4" fill="#5cd300"/>
<polygon points="27.3,558.2 36.4,556.4 41.8,564.5 23.6,567.0" fill="#5cd300"/>
<polygon points="83.6,541.8 94.5,540.9 97.0,552.0 90.0,556.0" fill="#5cd300"/>
<polygon points="102.0,522.5 106.1,516.3 112.3,512.2 120.5,510.2 130.7,511.2 138.9,517.3 151.2,518.4 161.5,520.4 171.7,522.5 172.7,526.6 178.0,530.0 190.0,540.0 160.0,575.0 125.0,575.0 95.0,575.0 95.0,525.0" fill="#ff8400"/>
<polygon points="95.0,525.5 100.0,525.5 104.1,526.6 106.1,534.8 112.3,549.1 118.4,561.4 118.0,575.0 100.0,575.0 96.0,557.0" fill="#ff0000"/>
<polygon points="119.5,533.7 124.6,534.8 126.6,538.9 132.8,540.9 138.9,553.2 136.9,559.3 130.7,561.4 128.7,549.1 124.6,543.0 120.5,538.9" fill="#ff0000"/>
</g>
<circle cx="108.5" cy="404.5" r="0.85" fill="#6b1a0a"/>
<circle cx="121.1" cy="406.6" r="0.85" fill="#6b1a0a"/>
<circle cx="140.0" cy="400.9" r="0.85" fill="#6b1a0a"/>
<circle cx="89.0" cy="416.4" r="0.85" fill="#6b1a0a"/>
<circle cx="84.8" cy="446.7" r="0.85" fill="#6b1a0a"/>
<circle cx="76.7" cy="450.0" r="0.85" fill="#6b1a0a"/>
<circle cx="152.6" cy="452.9" r="0.85" fill="#6b1a0a"/>
<circle cx="143.4" cy="459.3" r="0.85" fill="#6b1a0a"/>
<circle cx="121.9" cy="465.4" r="0.85" fill="#6b1a0a"/>
<circle cx="132.3" cy="466.9" r="0.85" fill="#6b1a0a"/>
<circle cx="105.8" cy="474.7" r="0.85" fill="#6b1a0a"/>
<circle cx="55.6" cy="476.6" r="0.85" fill="#6b1a0a"/>
<circle cx="154.8" cy="485.7" r="0.85" fill="#6b1a0a"/>
<circle cx="66.1" cy="487.8" r="0.85" fill="#6b1a0a"/>
<circle cx="59.6" cy="498.5" r="0.85" fill="#6b1a0a"/>
<circle cx="70.7" cy="497.1" r="0.85" fill="#6b1a0a"/>
<circle cx="150.8" cy="489.9" r="0.85" fill="#6b1a0a"/>
<circle cx="145.7" cy="498.5" r="0.85" fill="#6b1a0a"/>
<circle cx="127.0" cy="502.4" r="0.85" fill="#6b1a0a"/>
<circle cx="130.6" cy="500.5" r="0.85" fill="#6b1a0a"/>
<circle cx="141.8" cy="504.7" r="0.85" fill="#6b1a0a"/>
<circle cx="122.8" cy="511.7" r="0.85" fill="#6b1a0a"/>
<circle cx="128.4" cy="512.5" r="0.85" fill="#6b1a0a"/>
<circle cx="134.5" cy="514.6" r="0.85" fill="#6b1a0a"/>
<circle cx="141.6" cy="511.7" r="0.85" fill="#6b1a0a"/>
<circle cx="145.9" cy="513.1" r="0.85" fill="#6b1a0a"/>
<circle cx="156.3" cy="512.5" r="0.85" fill="#6b1a0a"/>
<circle cx="159.3" cy="513.1" r="0.85" fill="#6b1a0a"/>
<circle cx="138.2" cy="519.3" r="0.85" fill="#6b1a0a"/>
<circle cx="88.0" cy="515.9" r="0.85" fill="#6b1a0a"/>
<circle cx="92.2" cy="517.9" r="0.85" fill="#6b1a0a"/>
<circle cx="98.6" cy="522.1" r="0.85" fill="#6b1a0a"/>
<circle cx="48.9" cy="522.9" r="0.85" fill="#6b1a0a"/>
<circle cx="85.7" cy="528.6" r="0.85" fill="#6b1a0a"/>
<circle cx="84.6" cy="530.8" r="0.85" fill="#6b1a0a"/>
<circle cx="101.1" cy="535.0" r="0.85" fill="#6b1a0a"/>
<circle cx="159.0" cy="531.3" r="0.85" fill="#6b1a0a"/>
<circle cx="132.9" cy="538.3" r="0.85" fill="#6b1a0a"/>
<circle cx="52.6" cy="543.2" r="0.85" fill="#6b1a0a"/>
<circle cx="57.3" cy="543.2" r="0.85" fill="#6b1a0a"/>
<circle cx="61.0" cy="544.5" r="0.85" fill="#6b1a0a"/>
<circle cx="53.1" cy="546.8" r="0.85" fill="#6b1a0a"/>
<circle cx="57.9" cy="548.2" r="0.85" fill="#6b1a0a"/>
<circle cx="69.9" cy="544.5" r="0.85" fill="#6b1a0a"/>
<circle cx="73.3" cy="540.3" r="0.85" fill="#6b1a0a"/>
<circle cx="73.3" cy="543.2" r="0.85" fill="#6b1a0a"/>
<circle cx="95.8" cy="544.5" r="0.85" fill="#6b1a0a"/>
<circle cx="143.2" cy="545.9" r="0.85" fill="#6b1a0a"/>
<circle cx="130.4" cy="548.2" r="0.85" fill="#6b1a0a"/>
<clipPath id="clipf"><polygon transform="matrix(0.9374,0,0,1.0099,280.46,194.4)" points="91.4,191.8 105.0,193.2 105.9,205.9 109.5,207.7 109.5,215.0 114.5,215.0 114.0,204.0 113.2,195.5 130.0,196.2 146.4,198.2 157.3,201.5 166.0,205.3 166.0,207.5 163.3,211.3 162.2,216.7 158.9,222.7 167.6,231.5 167.0,233.6 158.9,243.5 161.6,247.3 174.2,238.5 176.9,241.3 150.7,264.2 176.0,295.0 188.1,311.4 180.3,317.5 171.7,308.0 167.4,309.7 166.5,314.0 168.2,327.8 166.5,328.7 173.4,337.3 164.8,343.4 159.6,337.3 150.0,342.5 134.5,352.9 121.6,363.2 115.5,362.4 106.9,359.8 100.0,355.5 90.0,353.6 82.7,352.7 70.0,355.5 58.2,359.0 55.5,357.3 52.7,352.7 46.4,350.0 41.8,347.3 40.0,348.2 34.5,355.5 33.6,360.9 20.9,362.7 20.0,364.0 19.0,355.0 17.0,346.0 13.0,334.0 9.8,320.5 6.0,292.0 10.4,265.4 21.8,270.3 34.9,272.5 34.4,279.5 39.8,279.5 41.0,278.0 41.5,271.0 42.7,270.0 46.5,256.0 51.0,246.0 56.1,236.1 74.5,240.3 80.9,220.5 88.5,204.0"/></clipPath>
<g clip-path="url(#clipf)">
<rect x="0" y="0" width="550" height="781" fill="#ff8400"/>
<polygon points="300.0,430.0 300.0,375.0 470.0,375.0 465.0,470.0 457.3,470.0 432.7,452.7 424.5,458.2 413.6,461.0 405.5,466.4 397.3,471.8 386.4,466.4 378.2,461.0 375.5,466.4 372.7,474.5 367.3,482.7 361.8,488.2 359.0,482.7 350.9,477.3 337.3,477.3 326.4,474.5 321.0,466.4 300.0,466.0" fill="#5cd300"/>
<polygon points="360.0,380.0 405.0,380.0 405.5,394.5 411.5,408.7 413.8,422.9 410.3,434.8 403.2,444.2 417.4,439.5 426.9,437.1 429.2,430.0 436.0,432.0 438.2,440.5 430.0,444.5 419.0,450.0 405.5,452.7 391.8,456.8 378.2,458.2 364.5,454.1 350.9,451.4 331.8,447.3 329.0,433.6 320.0,433.0" fill="#03ab03"/>
<polygon points="280.0,460.0 321.0,466.4 326.4,474.5 337.3,477.3 350.9,477.3 359.0,482.7 361.8,488.2 367.3,482.7 372.7,474.5 375.5,466.4 378.2,461.0 386.4,466.4 397.3,471.8 405.5,466.4 413.6,461.0 424.5,458.2 432.7,452.7 457.3,470.0 470.0,500.0 462.0,512.0 448.2,511.4 438.7,513.7 426.9,516.1 417.4,512.5 415.1,503.1 410.4,496.0 412.7,488.0 405.6,479.5 396.2,481.8 389.1,479.5 379.6,479.5 370.2,484.2 356.0,491.3 344.2,491.3 330.0,493.6 310.0,490.9 280.0,492.0" fill="#ffff00"/>
<polygon points="335.0,494.0 353.0,492.0 360.0,499.0 356.0,508.0 345.0,510.0 337.0,505.0" fill="#ffff00"/>
<polygon points="394.0,499.0 401.0,497.0 408.0,499.0 410.0,508.0 400.0,510.0" fill="#ffff00"/>
<polygon points="332.0,522.0 346.5,519.6 349.0,529.0 337.0,538.5 330.0,535.0" fill="#ffff00"/>
<polygon points="369.0,534.0 377.3,534.0 379.6,552.7 372.5,555.0" fill="#ffff00"/>
<polygon points="401.0,524.4 408.0,522.0 410.4,531.5 403.3,538.5" fill="#ffff00"/>
<polygon points="365.5,505.5 372.5,503.0 377.3,510.2 380.8,519.6 384.4,526.7 377.3,531.5 370.2,526.7 366.6,517.3" fill="#ff0000"/>
<polygon points="384.4,524.4 393.8,522.0 398.5,529.1 400.9,540.9 398.5,552.7 391.5,559.8 382.0,559.8 374.9,555.0 379.6,545.6 385.5,536.2" fill="#ff0000"/>
<polygon points="415.1,522.0 426.9,517.3 436.4,514.9 438.7,522.0 429.3,526.7 419.8,526.7" fill="#ff0000"/>
<polygon points="447.0,510.2 455.3,508.0 459.0,512.0 452.9,514.7" fill="#ff0000"/>
<polygon points="408.0,540.9 415.1,538.5 419.8,540.9 415.1,548.0 405.6,550.4" fill="#ff0000"/>
</g>
<circle cx="379.8" cy="405.0" r="0.85" fill="#6b1a0a"/>
<circle cx="391.4" cy="407.0" r="0.85" fill="#6b1a0a"/>
<circle cx="408.7" cy="401.4" r="0.85" fill="#6b1a0a"/>
<circle cx="361.9" cy="416.6" r="0.85" fill="#6b1a0a"/>
<circle cx="358.1" cy="446.4" r="0.85" fill="#6b1a0a"/>
<circle cx="350.7" cy="449.6" r="0.85" fill="#6b1a0a"/>
<circle cx="420.2" cy="452.4" r="0.85" fill="#6b1a0a"/>
<circle cx="411.8" cy="458.7" r="0.85" fill="#6b1a0a"/>
<circle cx="392.1" cy="464.8" r="0.85" fill="#6b1a0a"/>
<circle cx="401.6" cy="466.2" r="0.85" fill="#6b1a0a"/>
<circle cx="377.3" cy="473.8" r="0.85" fill="#6b1a0a"/>
<circle cx="331.3" cy="475.8" r="0.85" fill="#6b1a0a"/>
<circle cx="422.3" cy="484.6" r="0.85" fill="#6b1a0a"/>
<circle cx="340.9" cy="486.8" r="0.85" fill="#6b1a0a"/>
<circle cx="334.9" cy="497.3" r="0.85" fill="#6b1a0a"/>
<circle cx="345.1" cy="495.9" r="0.85" fill="#6b1a0a"/>
<circle cx="418.5" cy="488.8" r="0.85" fill="#6b1a0a"/>
<circle cx="413.9" cy="497.3" r="0.85" fill="#6b1a0a"/>
<circle cx="396.8" cy="501.1" r="0.85" fill="#6b1a0a"/>
<circle cx="400.1" cy="499.2" r="0.85" fill="#6b1a0a"/>
<circle cx="410.3" cy="503.3" r="0.85" fill="#6b1a0a"/>
<circle cx="392.9" cy="510.2" r="0.85" fill="#6b1a0a"/>
<circle cx="398.0" cy="511.0" r="0.85" fill="#6b1a0a"/>
<circle cx="403.6" cy="513.0" r="0.85" fill="#6b1a0a"/>
<circle cx="410.1" cy="510.2" r="0.85" fill="#6b1a0a"/>
<circle cx="414.1" cy="511.6" r="0.85" fill="#6b1a0a"/>
<circle cx="423.6" cy="511.0" r="0.85" fill="#6b1a0a"/>
<circle cx="426.4" cy="511.6" r="0.85" fill="#6b1a0a"/>
<circle cx="407.0" cy="517.7" r="0.85" fill="#6b1a0a"/>
<circle cx="361.0" cy="514.3" r="0.85" fill="#6b1a0a"/>
<circle cx="364.8" cy="516.3" r="0.85" fill="#6b1a0a"/>
<circle cx="370.7" cy="520.4" r="0.85" fill="#6b1a0a"/>
<circle cx="325.2" cy="521.2" r="0.85" fill="#6b1a0a"/>
<circle cx="358.9" cy="526.8" r="0.85" fill="#6b1a0a"/>
<circle cx="357.9" cy="529.0" r="0.85" fill="#6b1a0a"/>
<circle cx="373.0" cy="533.1" r="0.85" fill="#6b1a0a"/>
<circle cx="426.1" cy="529.5" r="0.85" fill="#6b1a0a"/>
<circle cx="402.1" cy="536.4" r="0.85" fill="#6b1a0a"/>
<circle cx="328.5" cy="541.1" r="0.85" fill="#6b1a0a"/>
<circle cx="332.9" cy="541.1" r="0.85" fill="#6b1a0a"/>
<circle cx="336.2" cy="542.4" r="0.85" fill="#6b1a0a"/>
<circle cx="329.0" cy="544.6" r="0.85" fill="#6b1a0a"/>
<circle cx="333.4" cy="546.0" r="0.85" fill="#6b1a0a"/>
<circle cx="344.4" cy="542.4" r="0.85" fill="#6b1a0a"/>
<circle cx="347.5" cy="538.3" r="0.85" fill="#6b1a0a"/>
<circle cx="347.5" cy="541.1" r="0.85" fill="#6b1a0a"/>
<circle cx="368.1" cy="542.4" r="0.85" fill="#6b1a0a"/>
<circle cx="411.6" cy="543.8" r="0.85" fill="#6b1a0a"/>
<circle cx="399.9" cy="546.0" r="0.85" fill="#6b1a0a"/>
<clipPath id="clipg"><polygon transform="matrix(0.9959,0,0,1.0241,-2.02,390.49)" points="91.4,191.8 105.0,193.2 105.9,205.9 109.5,207.7 109.5,215.0 114.5,215.0 114.0,204.0 113.2,195.5 130.0,196.2 146.4,198.2 157.3,201.5 166.0,205.3 166.0,207.5 163.3,211.3 162.2,216.7 158.9,222.7 167.6,231.5 167.0,233.6 158.9,243.5 161.6,247.3 174.2,238.5 176.9,241.3 150.7,264.2 176.0,295.0 188.1,311.4 180.3,317.5 171.7,308.0 167.4,309.7 166.5,314.0 168.2,327.8 166.5,328.7 173.4,337.3 164.8,343.4 159.6,337.3 150.0,342.5 134.5,352.9 121.6,363.2 115.5,362.4 106.9,359.8 100.0,355.5 90.0,353.6 82.7,352.7 70.0,355.5 58.2,359.0 55.5,357.3 52.7,352.7 46.4,350.0 41.8,347.3 40.0,348.2 34.5,355.5 33.6,360.9 20.9,362.7 20.0,364.0 19.0,355.0 17.0,346.0 13.0,334.0 9.8,320.5 6.0,292.0 10.4,265.4 21.8,270.3 34.9,272.5 34.4,279.5 39.8,279.5 41.0,278.0 41.5,271.0 42.7,270.0 46.5,256.0 51.0,246.0 56.1,236.1 74.5,240.3 80.9,220.5 88.5,204.0"/></clipPath>
<g clip-path="url(#clipg)">
<rect x="0" y="0" width="550" height="781" fill="#ffff00"/>
<polygon points="0.0,620.0 70.0,600.0 88.4,592.9 92.0,600.9 94.9,611.1 96.4,622.7 97.1,632.9 97.8,640.2 96.0,646.0 100.9,653.1 108.0,655.5 112.7,653.1 117.4,655.5 119.8,662.5 115.1,669.6 124.5,674.4 131.6,676.7 141.1,681.5 145.8,688.5 143.4,695.6 143.5,700.0 141.0,712.7 138.4,719.0 133.3,725.5 128.2,726.7 121.8,725.5 117.4,722.0 112.0,718.0 106.0,717.0 100.0,716.5 94.0,716.0 96.0,712.0 100.0,704.0 98.0,698.0 94.0,692.0 90.0,686.0 84.0,680.0 78.0,676.0 70.0,673.0 64.0,672.0 60.0,674.0 52.0,674.0 46.0,668.0 40.0,670.0 33.0,671.0 26.0,672.0 8.0,666.0 0.0,666.0" fill="#5cd300"/>
<polygon points="56.0,648.4 67.8,649.5 74.9,653.1 80.8,657.8 85.5,667.3 82.0,669.6 70.2,664.9 63.1,657.8 57.2,653.1" fill="#03ab03"/>
<polygon points="90.3,655.5 97.4,656.6 98.5,664.9 93.8,664.9" fill="#03ab03"/>
<polygon points="90.3,667.3 98.5,669.6 108.0,681.5 105.6,690.9 98.5,688.5 93.8,681.5" fill="#03ab03"/>
<polygon points="112.7,688.5 122.2,686.2 131.6,687.4 141.1,690.9 138.7,700.4 134.0,707.4 124.5,705.1 117.4,700.4 112.7,695.6" fill="#03ab03"/>
<polygon points="70.0,685.0 80.0,683.0 88.0,690.0 86.0,694.0 76.0,690.0" fill="#ffff00"/>
<polygon points="110.1,593.3 123.2,594.5 132.7,599.2 137.4,608.7 135.0,618.2 129.1,630.0 125.5,634.8 120.8,622.9 113.7,613.4 109.0,604.0" fill="#ff8400"/>
<polygon points="113.7,646.6 130.3,640.7 142.6,636.0 152.4,632.0 157.3,628.0 163.5,625.0 167.0,628.0 162.0,636.0 160.6,644.5 155.6,648.6 149.1,651.1 139.3,652.7 129.5,655.2 114.7,651.9" fill="#ff8400"/>
<polygon points="161.1,636.0 170.6,631.0 178.0,634.0 163.5,644.2" fill="#ff0000"/>
<polygon points="127.9,652.5 137.4,651.4 139.8,654.9 130.3,656.1" fill="#ff0000"/>
<polygon points="148.0,663.2 152.8,668.0 161.1,679.8 168.2,689.3 163.5,691.6 154.0,684.5 146.9,675.0" fill="#ff8400"/>
<polygon points="137.4,713.0 149.2,715.3 161.1,722.4 168.2,729.5 163.5,739.0 154.0,731.9 144.5,724.8 135.0,722.4" fill="#ff8400"/>
<polygon points="0.0,684.0 18.2,683.6 36.4,687.3 47.0,689.0 60.0,700.0 62.0,720.0 55.0,740.0 50.0,755.0 40.0,765.0 0.0,765.0" fill="#ff8400"/>
<polygon points="18.0,693.0 40.0,691.6 52.0,698.0 56.0,706.0 50.0,709.0 40.0,704.0 28.0,698.0" fill="#ffff00"/>
<polygon points="55.0,698.0 62.0,700.0 70.0,705.0 78.0,715.0 84.0,722.0 96.0,720.0 105.0,722.0 118.0,725.0 124.0,740.0 124.0,765.0 60.0,765.0 50.0,755.0 45.0,740.0 58.0,724.5 60.0,719.0" fill="#ff8400"/>
<polygon points="10.9,721.0 54.5,711.8 60.0,719.0 58.0,724.5 45.5,739.0 40.0,746.4 34.5,755.5 32.7,765.0 15.0,765.0 14.5,739.0 10.9,730.0" fill="#ff0000"/>
<polygon points="62.0,706.0 68.0,708.0 73.0,725.0 72.0,732.0 66.0,728.0 63.0,715.0" fill="#ffff00"/>
<polygon points="73.0,727.0 85.0,726.0 96.0,728.0 103.0,740.0 100.0,759.0 85.0,760.0 76.0,752.0" fill="#ff0000"/>
<polygon points="90.0,722.0 97.0,721.0 102.0,735.0 95.0,735.0" fill="#ff0000"/>
<polygon points="117.0,726.0 126.0,724.0 138.0,724.0 142.0,745.0 130.0,752.0 120.0,745.0" fill="#ffff00"/>
<polygon points="121.8,725.5 128.2,726.7 133.3,731.8 132.0,742.0 130.7,750.9 126.9,743.3 124.4,735.6" fill="#5cd300"/>
</g>
<circle cx="103.5" cy="604.0" r="0.85" fill="#6b1a0a"/>
<circle cx="115.8" cy="606.1" r="0.85" fill="#6b1a0a"/>
<circle cx="134.2" cy="600.4" r="0.85" fill="#6b1a0a"/>
<circle cx="84.5" cy="615.8" r="0.85" fill="#6b1a0a"/>
<circle cx="80.4" cy="646.0" r="0.85" fill="#6b1a0a"/>
<circle cx="72.6" cy="649.3" r="0.85" fill="#6b1a0a"/>
<circle cx="146.5" cy="652.1" r="0.85" fill="#6b1a0a"/>
<circle cx="137.5" cy="658.5" r="0.85" fill="#6b1a0a"/>
<circle cx="116.6" cy="664.6" r="0.85" fill="#6b1a0a"/>
<circle cx="126.7" cy="666.1" r="0.85" fill="#6b1a0a"/>
<circle cx="100.9" cy="673.9" r="0.85" fill="#6b1a0a"/>
<circle cx="52.0" cy="675.8" r="0.85" fill="#6b1a0a"/>
<circle cx="148.7" cy="684.8" r="0.85" fill="#6b1a0a"/>
<circle cx="62.2" cy="687.0" r="0.85" fill="#6b1a0a"/>
<circle cx="55.8" cy="697.6" r="0.85" fill="#6b1a0a"/>
<circle cx="66.7" cy="696.2" r="0.85" fill="#6b1a0a"/>
<circle cx="144.7" cy="689.0" r="0.85" fill="#6b1a0a"/>
<circle cx="139.8" cy="697.6" r="0.85" fill="#6b1a0a"/>
<circle cx="121.6" cy="701.5" r="0.85" fill="#6b1a0a"/>
<circle cx="125.1" cy="699.6" r="0.85" fill="#6b1a0a"/>
<circle cx="135.9" cy="703.8" r="0.85" fill="#6b1a0a"/>
<circle cx="117.5" cy="710.7" r="0.85" fill="#6b1a0a"/>
<circle cx="122.9" cy="711.5" r="0.85" fill="#6b1a0a"/>
<circle cx="128.8" cy="713.6" r="0.85" fill="#6b1a0a"/>
<circle cx="135.7" cy="710.7" r="0.85" fill="#6b1a0a"/>
<circle cx="140.0" cy="712.2" r="0.85" fill="#6b1a0a"/>
<circle cx="150.1" cy="711.5" r="0.85" fill="#6b1a0a"/>
<circle cx="153.0" cy="712.2" r="0.85" fill="#6b1a0a"/>
<circle cx="132.4" cy="718.3" r="0.85" fill="#6b1a0a"/>
<circle cx="83.5" cy="714.9" r="0.85" fill="#6b1a0a"/>
<circle cx="87.6" cy="716.9" r="0.85" fill="#6b1a0a"/>
<circle cx="93.9" cy="721.1" r="0.85" fill="#6b1a0a"/>
<circle cx="45.5" cy="721.9" r="0.85" fill="#6b1a0a"/>
<circle cx="81.3" cy="727.5" r="0.85" fill="#6b1a0a"/>
<circle cx="80.2" cy="729.8" r="0.85" fill="#6b1a0a"/>
<circle cx="96.3" cy="734.0" r="0.85" fill="#6b1a0a"/>
<circle cx="152.7" cy="730.3" r="0.85" fill="#6b1a0a"/>
<circle cx="127.2" cy="737.3" r="0.85" fill="#6b1a0a"/>
<circle cx="49.1" cy="742.1" r="0.85" fill="#6b1a0a"/>
<circle cx="53.7" cy="742.1" r="0.85" fill="#6b1a0a"/>
<circle cx="57.2" cy="743.4" r="0.85" fill="#6b1a0a"/>
<circle cx="49.6" cy="745.6" r="0.85" fill="#6b1a0a"/>
<circle cx="54.2" cy="747.1" r="0.85" fill="#6b1a0a"/>
<circle cx="65.9" cy="743.4" r="0.85" fill="#6b1a0a"/>
<circle cx="69.2" cy="739.2" r="0.85" fill="#6b1a0a"/>
<circle cx="69.2" cy="742.1" r="0.85" fill="#6b1a0a"/>
<circle cx="91.1" cy="743.4" r="0.85" fill="#6b1a0a"/>
<circle cx="137.3" cy="744.8" r="0.85" fill="#6b1a0a"/>
<circle cx="124.9" cy="747.1" r="0.85" fill="#6b1a0a"/>
<clipPath id="cliph"><polygon transform="matrix(0.954,0,0,1.0139,282.24,394.07)" points="91.4,191.8 105.0,193.2 105.9,205.9 109.5,207.7 109.5,215.0 114.5,215.0 114.0,204.0 113.2,195.5 130.0,196.2 146.4,198.2 157.3,201.5 166.0,205.3 166.0,207.5 163.3,211.3 162.2,216.7 158.9,222.7 167.6,231.5 167.0,233.6 158.9,243.5 161.6,247.3 174.2,238.5 176.9,241.3 150.7,264.2 176.0,295.0 188.1,311.4 180.3,317.5 171.7,308.0 167.4,309.7 166.5,314.0 168.2,327.8 166.5,328.7 173.4,337.3 164.8,343.4 159.6,337.3 150.0,342.5 134.5,352.9 121.6,363.2 115.5,362.4 106.9,359.8 100.0,355.5 90.0,353.6 82.7,352.7 70.0,355.5 58.2,359.0 55.5,357.3 52.7,352.7 46.4,350.0 41.8,347.3 40.0,348.2 34.5,355.5 33.6,360.9 20.9,362.7 20.0,364.0 19.0,355.0 17.0,346.0 13.0,334.0 9.8,320.5 6.0,292.0 10.4,265.4 21.8,270.3 34.9,272.5 34.4,279.5 39.8,279.5 41.0,278.0 41.5,271.0 42.7,270.0 46.5,256.0 51.0,246.0 56.1,236.1 74.5,240.3 80.9,220.5 88.5,204.0"/></clipPath>
<g clip-path="url(#cliph)">
<rect x="0" y="0" width="550" height="781" fill="#5cd300"/>
<polygon points="383.0,580.0 450.0,590.0 441.1,602.8 438.7,611.1 434.0,620.5 441.1,627.7 434.0,639.5 426.9,643.0 417.4,644.0 400.8,645.0 393.7,642.0 389.0,630.0 388.0,612.0 386.0,598.0" fill="#ffff00"/>
<polygon points="372.7,635.5 390.9,632.7 398.2,639.1 394.5,646.4 387.3,650.0 374.5,648.2" fill="#ffff00"/>
<polygon points="344.5,643.8 353.5,641.3 354.7,643.8 347.1,645.1" fill="#ffff00"/>
<polygon points="328.0,645.0 333.0,643.8 339.5,651.5 330.0,651.0" fill="#ffff00"/>
<polygon points="384.2,679.8 393.7,675.0 405.5,677.4 417.4,679.8 424.5,677.4 431.6,684.5 441.1,689.3 450.6,696.4 464.0,710.6 455.3,713.0 443.5,705.9 441.1,717.7 429.2,717.7 417.4,715.3 405.5,717.7 393.7,713.0 389.0,703.5 384.2,694.0" fill="#03ab03"/>
<polygon points="371.0,655.0 378.0,656.0 377.0,675.0 372.0,674.0" fill="#03ab03"/>
<polygon points="384.0,665.0 392.0,664.0 393.0,671.0 385.0,672.0" fill="#03ab03"/>
<polygon points="351.0,668.0 365.5,670.0 374.5,677.3 381.8,682.7 378.2,691.8 371.0,693.6 361.8,690.0 352.7,684.5" fill="#ffff00"/>
<polygon points="280.0,660.0 300.0,662.0 312.0,666.0 316.0,672.0 316.5,678.0 322.0,688.0 327.0,690.0 329.0,703.0 320.0,702.7 302.3,690.0 287.7,681.0 280.0,681.0" fill="#ffff00"/>
<polygon points="280.0,681.0 287.7,681.0 302.3,690.0 320.0,702.7 329.0,706.4 338.2,713.6 341.8,721.0 336.4,726.4 332.7,735.5 345.0,737.0 356.0,737.0 360.0,745.0 363.6,751.6 345.9,755.2 321.1,758.7 299.8,768.0 280.0,768.0" fill="#ff8400"/>
<polygon points="316.5,678.0 332.0,678.0 334.5,690.0 342.0,704.5 336.5,706.4 329.0,703.0 327.0,690.0 322.0,688.0" fill="#5cd300"/>
<polygon points="335.3,670.1 349.5,668.3 353.0,677.2 351.2,684.3 344.1,687.8 338.8,680.7" fill="#ff8400"/>
<polygon points="336.0,690.0 350.0,688.0 368.0,690.0 372.0,712.0 371.8,735.5 374.5,750.0 383.6,768.0 372.7,768.0 356.0,737.0 343.6,719.0 338.2,713.6" fill="#ff8400"/>
<polygon points="338.2,713.6 343.6,719.0 356.0,733.0 356.0,737.0 345.0,737.0 332.7,735.5 336.4,726.4 341.8,721.0" fill="#ffff00"/>
<polygon points="352.7,702.7 365.5,701.0 369.0,706.4 363.6,715.5 354.5,715.5" fill="#ff0000"/>
<polygon points="369.0,690.0 383.6,690.0 385.0,705.0 383.6,717.0 372.7,719.0 371.0,705.0" fill="#ffff00"/>
<polygon points="380.0,701.0 385.0,701.0 385.5,713.6 381.0,713.6" fill="#5cd300"/>
<polygon points="372.7,719.0 380.0,717.3 385.5,721.0 387.3,731.8 388.2,744.5 389.0,768.0 383.6,768.0 374.5,750.0 371.8,735.5" fill="#ff0000"/>
<polygon points="385.5,708.0 393.7,708.0 400.0,717.7 398.4,731.9 400.8,746.1 398.4,768.0 391.3,768.0 389.0,761.0 388.2,744.5 387.3,731.8 385.5,721.0" fill="#ff8400"/>
<polygon points="398.0,704.5 405.0,710.0 441.1,717.7 448.2,729.5 441.1,741.4 429.2,739.0 417.4,746.1 403.2,758.0 398.4,746.1 400.8,731.9" fill="#ffff00"/>
</g>
<circle cx="383.4" cy="605.5" r="0.85" fill="#6b1a0a"/>
<circle cx="395.1" cy="607.5" r="0.85" fill="#6b1a0a"/>
<circle cx="412.7" cy="601.9" r="0.85" fill="#6b1a0a"/>
<circle cx="365.1" cy="617.1" r="0.85" fill="#6b1a0a"/>
<circle cx="361.2" cy="647.0" r="0.85" fill="#6b1a0a"/>
<circle cx="353.7" cy="650.3" r="0.85" fill="#6b1a0a"/>
<circle cx="424.5" cy="653.1" r="0.85" fill="#6b1a0a"/>
<circle cx="415.9" cy="659.4" r="0.85" fill="#6b1a0a"/>
<circle cx="395.9" cy="665.5" r="0.85" fill="#6b1a0a"/>
<circle cx="405.5" cy="666.9" r="0.85" fill="#6b1a0a"/>
<circle cx="380.8" cy="674.6" r="0.85" fill="#6b1a0a"/>
<circle cx="333.9" cy="676.5" r="0.85" fill="#6b1a0a"/>
<circle cx="426.6" cy="685.5" r="0.85" fill="#6b1a0a"/>
<circle cx="343.8" cy="687.6" r="0.85" fill="#6b1a0a"/>
<circle cx="337.7" cy="698.1" r="0.85" fill="#6b1a0a"/>
<circle cx="348.1" cy="696.7" r="0.85" fill="#6b1a0a"/>
<circle cx="422.8" cy="689.6" r="0.85" fill="#6b1a0a"/>
<circle cx="418.1" cy="698.1" r="0.85" fill="#6b1a0a"/>
<circle cx="400.6" cy="702.0" r="0.85" fill="#6b1a0a"/>
<circle cx="404.0" cy="700.1" r="0.85" fill="#6b1a0a"/>
<circle cx="414.4" cy="704.2" r="0.85" fill="#6b1a0a"/>
<circle cx="396.7" cy="711.1" r="0.85" fill="#6b1a0a"/>
<circle cx="401.9" cy="711.9" r="0.85" fill="#6b1a0a"/>
<circle cx="407.6" cy="714.0" r="0.85" fill="#6b1a0a"/>
<circle cx="414.2" cy="711.1" r="0.85" fill="#6b1a0a"/>
<circle cx="418.3" cy="712.5" r="0.85" fill="#6b1a0a"/>
<circle cx="427.9" cy="711.9" r="0.85" fill="#6b1a0a"/>
<circle cx="430.8" cy="712.5" r="0.85" fill="#6b1a0a"/>
<circle cx="411.0" cy="718.6" r="0.85" fill="#6b1a0a"/>
<circle cx="364.2" cy="715.3" r="0.85" fill="#6b1a0a"/>
<circle cx="368.1" cy="717.2" r="0.85" fill="#6b1a0a"/>
<circle cx="374.1" cy="721.4" r="0.85" fill="#6b1a0a"/>
<circle cx="327.7" cy="722.2" r="0.85" fill="#6b1a0a"/>
<circle cx="362.1" cy="727.7" r="0.85" fill="#6b1a0a"/>
<circle cx="361.0" cy="730.0" r="0.85" fill="#6b1a0a"/>
<circle cx="376.4" cy="734.1" r="0.85" fill="#6b1a0a"/>
<circle cx="430.5" cy="730.5" r="0.85" fill="#6b1a0a"/>
<circle cx="406.1" cy="737.4" r="0.85" fill="#6b1a0a"/>
<circle cx="331.2" cy="742.1" r="0.85" fill="#6b1a0a"/>
<circle cx="335.6" cy="742.1" r="0.85" fill="#6b1a0a"/>
<circle cx="339.0" cy="743.5" r="0.85" fill="#6b1a0a"/>
<circle cx="331.7" cy="745.7" r="0.85" fill="#6b1a0a"/>
<circle cx="336.1" cy="747.1" r="0.85" fill="#6b1a0a"/>
<circle cx="347.3" cy="743.5" r="0.85" fill="#6b1a0a"/>
<circle cx="350.5" cy="739.3" r="0.85" fill="#6b1a0a"/>
<circle cx="350.5" cy="742.1" r="0.85" fill="#6b1a0a"/>
<circle cx="371.4" cy="743.5" r="0.85" fill="#6b1a0a"/>
<circle cx="415.7" cy="744.9" r="0.85" fill="#6b1a0a"/>
<circle cx="403.8" cy="747.1" r="0.85" fill="#6b1a0a"/>
<g transform="translate(27.8,32.2) rotate(4)">
<path d="M0,-10.8 L1.9,-2 L9.8,0 L1.9,2 L0,10.2 L-1.9,2 L-9.4,0 L-1.9,-2 Z" fill="#1a1a1a"/>
<circle r="4.2" fill="#fff" stroke="#1a1a1a" stroke-width="1.1"/>
<path d="M0,0 L0,-4.2 A4.2,4.2 0 0 1 4.2,0 Z" fill="#111"/>
<path d="M0,0 L0,4.2 A4.2,4.2 0 0 1 -4.2,0 Z" fill="#111"/>
</g>
<text x="28.5" y="20.0" font-family="Liberation Serif, serif" font-size="5.6" font-weight="bold" fill="#2a2a2a" text-anchor="middle">N</text>
<text x="27.5" y="47.8" font-family="Liberation Serif, serif" font-size="5.6" font-weight="bold" fill="#2a2a2a" text-anchor="middle">S</text>
<text x="15.1" y="33.9" font-family="Liberation Serif, serif" font-size="5.6" font-weight="bold" fill="#2a2a2a" text-anchor="middle">W</text>
<text x="40.0" y="34.7" font-family="Liberation Serif, serif" font-size="5.6" font-weight="bold" fill="#2a2a2a" text-anchor="middle">E</text>
<rect x="6.0" y="180.4" width="67.8" height="2.1" fill="#000"/>
<rect x="13.5" y="181.0" width="7.5" height="1.0" fill="#fff"/>
<rect x="28.6" y="181.0" width="22.6" height="1.0" fill="#fff"/>
<text x="6.3" y="178.2" font-family="Liberation Sans, sans-serif" font-size="4.6" fill="#555" text-anchor="middle">0</text>
<text x="17.6" y="178.2" font-family="Liberation Sans, sans-serif" font-size="4.6" fill="#555" text-anchor="middle">0.225</text>
<text x="28.9" y="178.2" font-family="Liberation Sans, sans-serif" font-size="4.6" fill="#555" text-anchor="middle">0.45</text>
<text x="51.5" y="178.2" font-family="Liberation Sans, sans-serif" font-size="4.6" fill="#555" text-anchor="middle">0.9</text>
<text x="74.1" y="178.2" font-family="Liberation Sans, sans-serif" font-size="4.6" fill="#555" text-anchor="middle">1.35</text>
<text x="74.9" y="183.1" font-family="Liberation Sans, sans-serif" font-size="4.6" fill="#555" textLength="19.5" lengthAdjust="spacingAndGlyphs">Kilometers</text>
<text x="211.5" y="98.3" font-family="Liberation Sans, sans-serif" font-weight="bold" font-size="14.2" fill="#111" stroke="#111" stroke-width="0.3" textLength="34.4" lengthAdjust="spacingAndGlyphs">(a) Al</text>
<text x="205.8" y="116.6" font-family="Liberation Sans, sans-serif" font-size="8.6" fill="#3c3c48" textLength="48.7" lengthAdjust="spacingAndGlyphs">Nail samples</text>
<circle cx="193.7" cy="113.4" r="0.9" fill="#7a1a10"/>
<rect x="184.0" y="121.1" width="17.0" height="8.8" fill="#03ab03" stroke="#8a8a8a" stroke-width="0.5"/>
<text x="202.9" y="129.2" font-family="Liberation Sans, sans-serif" font-weight="bold" font-size="9.48" fill="#161616" stroke="#161616" stroke-width="0.15" lengthAdjust="spacingAndGlyphs" textLength="33.6">34,984.3</text>
<text x="242.8" y="129.2" font-family="Liberation Sans, sans-serif" font-weight="bold" font-size="9.48" fill="#161616" stroke="#161616" stroke-width="0.15" lengthAdjust="spacingAndGlyphs" text-anchor="middle">-</text>
<text x="248.5" y="129.2" font-family="Liberation Sans, sans-serif" font-weight="bold" font-size="9.48" fill="#161616" stroke="#161616" stroke-width="0.15" lengthAdjust="spacingAndGlyphs" textLength="33.6">42,085.5</text>
<rect x="184.0" y="132.6" width="17.0" height="8.8" fill="#5cd300" stroke="#8a8a8a" stroke-width="0.5"/>
<text x="202.9" y="140.7" font-family="Liberation Sans, sans-serif" font-weight="bold" font-size="9.48" fill="#161616" stroke="#161616" stroke-width="0.15" lengthAdjust="spacingAndGlyphs" textLength="33.6">42,085.6</text>
<text x="242.8" y="140.7" font-family="Liberation Sans, sans-serif" font-weight="bold" font-size="9.48" fill="#161616" stroke="#161616" stroke-width="0.15" lengthAdjust="spacingAndGlyphs" text-anchor="middle">-</text>
<text x="248.5" y="140.7" font-family="Liberation Sans, sans-serif" font-weight="bold" font-size="9.48" fill="#161616" stroke="#161616" stroke-width="0.15" lengthAdjust="spacingAndGlyphs" textLength="33.6">49,186.6</text>
<rect x="184.0" y="144.2" width="17.0" height="8.8" fill="#ffff00" stroke="#8a8a8a" stroke-width="0.5"/>
<text x="202.9" y="152.3" font-family="Liberation Sans, sans-serif" font-weight="bold" font-size="9.48" fill="#161616" stroke="#161616" stroke-width="0.15" lengthAdjust="spacingAndGlyphs" textLength="33.6">49,186.7</text>
<text x="242.8" y="152.3" font-family="Liberation Sans, sans-serif" font-weight="bold" font-size="9.48" fill="#161616" stroke="#161616" stroke-width="0.15" lengthAdjust="spacingAndGlyphs" text-anchor="middle">-</text>
<text x="248.5" y="152.3" font-family="Liberation Sans, sans-serif" font-weight="bold" font-size="9.48" fill="#161616" stroke="#161616" stroke-width="0.15" lengthAdjust="spacingAndGlyphs" textLength="33.6">56,287.8</text>
<rect x="184.0" y="156.0" width="17.0" height="8.8" fill="#ff8400" stroke="#8a8a8a" stroke-width="0.5"/>
<text x="202.9" y="164.1" font-family="Liberation Sans, sans-serif" font-weight="bold" font-size="9.48" fill="#161616" stroke="#161616" stroke-width="0.15" lengthAdjust="spacingAndGlyphs" textLength="33.6">56,287.9</text>
<text x="242.8" y="164.1" font-family="Liberation Sans, sans-serif" font-weight="bold" font-size="9.48" fill="#161616" stroke="#161616" stroke-width="0.15" lengthAdjust="spacingAndGlyphs" text-anchor="middle">-</text>
<text x="248.5" y="164.1" font-family="Liberation Sans, sans-serif" font-weight="bold" font-size="9.48" fill="#161616" stroke="#161616" stroke-width="0.15" lengthAdjust="spacingAndGlyphs" textLength="33.6">63,388.9</text>
<rect x="184.0" y="167.8" width="17.0" height="8.8" fill="#ff0000" stroke="#8a8a8a" stroke-width="0.5"/>
<text x="202.9" y="175.9" font-family="Liberation Sans, sans-serif" font-weight="bold" font-size="9.48" fill="#161616" stroke="#161616" stroke-width="0.15" lengthAdjust="spacingAndGlyphs" textLength="33.6">63,389.0</text>
<text x="242.8" y="175.9" font-family="Liberation Sans, sans-serif" font-weight="bold" font-size="9.48" fill="#161616" stroke="#161616" stroke-width="0.15" lengthAdjust="spacingAndGlyphs" text-anchor="middle">-</text>
<text x="248.5" y="175.9" font-family="Liberation Sans, sans-serif" font-weight="bold" font-size="9.48" fill="#161616" stroke="#161616" stroke-width="0.15" lengthAdjust="spacingAndGlyphs" textLength="33.6">70,490.1</text>
<g transform="translate(306,32.4) rotate(4)">
<path d="M0,-10.8 L1.9,-2 L9.8,0 L1.9,2 L0,10.2 L-1.9,2 L-9.4,0 L-1.9,-2 Z" fill="#1a1a1a"/>
<circle r="4.2" fill="#fff" stroke="#1a1a1a" stroke-width="1.1"/>
<path d="M0,0 L0,-4.2 A4.2,4.2 0 0 1 4.2,0 Z" fill="#111"/>
<path d="M0,0 L0,4.2 A4.2,4.2 0 0 1 -4.2,0 Z" fill="#111"/>
</g>
<text x="306.7" y="20.2" font-family="Liberation Serif, serif" font-size="5.6" font-weight="bold" fill="#2a2a2a" text-anchor="middle">N</text>
<text x="305.7" y="48.0" font-family="Liberation Serif, serif" font-size="5.6" font-weight="bold" fill="#2a2a2a" text-anchor="middle">S</text>
<text x="293.3" y="34.1" font-family="Liberation Serif, serif" font-size="5.6" font-weight="bold" fill="#2a2a2a" text-anchor="middle">W</text>
<text x="318.2" y="34.9" font-family="Liberation Serif, serif" font-size="5.6" font-weight="bold" fill="#2a2a2a" text-anchor="middle">E</text>
<rect x="296.5" y="180.0" width="67.5" height="1.9" fill="#000"/>
<rect x="304.0" y="180.6" width="7.5" height="0.8" fill="#fff"/>
<rect x="319.0" y="180.6" width="22.5" height="0.8" fill="#fff"/>
<text x="296.8" y="177.8" font-family="Liberation Sans, sans-serif" font-size="4.6" fill="#555" text-anchor="middle">0</text>
<text x="308.1" y="177.8" font-family="Liberation Sans, sans-serif" font-size="4.6" fill="#555" text-anchor="middle">0.225</text>
<text x="319.3" y="177.8" font-family="Liberation Sans, sans-serif" font-size="4.6" fill="#555" text-anchor="middle">0.45</text>
<text x="341.8" y="177.8" font-family="Liberation Sans, sans-serif" font-size="4.6" fill="#555" text-anchor="middle">0.9</text>
<text x="364.3" y="177.8" font-family="Liberation Sans, sans-serif" font-size="4.6" fill="#555" text-anchor="middle">1.35</text>
<text x="365.1" y="182.5" font-family="Liberation Sans, sans-serif" font-size="4.6" fill="#555" textLength="19.5" lengthAdjust="spacingAndGlyphs">Kilometers</text>
<text x="474.6" y="99.1" font-family="Liberation Sans, sans-serif" font-weight="bold" font-size="14.2" fill="#111" stroke="#111" stroke-width="0.3" textLength="38.2" lengthAdjust="spacingAndGlyphs">(b) As</text>
<text x="475.5" y="116.6" font-family="Liberation Sans, sans-serif" font-size="8.6" fill="#3c3c48" textLength="48.2" lengthAdjust="spacingAndGlyphs">Nail samples</text>
<circle cx="463.7" cy="113.4" r="0.9" fill="#7a1a10"/>
<rect x="458.0" y="121.4" width="16.6" height="8.4" fill="#03ab03" stroke="#8a8a8a" stroke-width="0.5"/>
<text x="477.5" y="129.1" font-family="Liberation Sans, sans-serif" font-weight="bold" font-size="10.44" fill="#161616" stroke="#161616" stroke-width="0.15" lengthAdjust="spacingAndGlyphs" textLength="23.8">163.6</text>
<text x="509.0" y="129.1" font-family="Liberation Sans, sans-serif" font-weight="bold" font-size="10.44" fill="#161616" stroke="#161616" stroke-width="0.15" lengthAdjust="spacingAndGlyphs" text-anchor="middle">-</text>
<text x="515.3" y="129.1" font-family="Liberation Sans, sans-serif" font-weight="bold" font-size="10.44" fill="#161616" stroke="#161616" stroke-width="0.15" lengthAdjust="spacingAndGlyphs" textLength="23.8">199.0</text>
<rect x="458.0" y="132.9" width="16.6" height="8.4" fill="#5cd300" stroke="#8a8a8a" stroke-width="0.5"/>
<text x="477.5" y="140.6" font-family="Liberation Sans, sans-serif" font-weight="bold" font-size="10.44" fill="#161616" stroke="#161616" stroke-width="0.15" lengthAdjust="spacingAndGlyphs" textLength="23.8">199.1</text>
<text x="509.0" y="140.6" font-family="Liberation Sans, sans-serif" font-weight="bold" font-size="10.44" fill="#161616" stroke="#161616" stroke-width="0.15" lengthAdjust="spacingAndGlyphs" text-anchor="middle">-</text>
<text x="515.3" y="140.6" font-family="Liberation Sans, sans-serif" font-weight="bold" font-size="10.44" fill="#161616" stroke="#161616" stroke-width="0.15" lengthAdjust="spacingAndGlyphs" textLength="23.8">234.5</text>
<rect x="458.0" y="144.3" width="16.6" height="8.4" fill="#ffff00" stroke="#8a8a8a" stroke-width="0.5"/>
<text x="477.5" y="152.0" font-family="Liberation Sans, sans-serif" font-weight="bold" font-size="10.44" fill="#161616" stroke="#161616" stroke-width="0.15" lengthAdjust="spacingAndGlyphs" textLength="23.8">234.6</text>
<text x="509.0" y="152.0" font-family="Liberation Sans, sans-serif" font-weight="bold" font-size="10.44" fill="#161616" stroke="#161616" stroke-width="0.15" lengthAdjust="spacingAndGlyphs" text-anchor="middle">-</text>
<text x="515.3" y="152.0" font-family="Liberation Sans, sans-serif" font-weight="bold" font-size="10.44" fill="#161616" stroke="#161616" stroke-width="0.15" lengthAdjust="spacingAndGlyphs" textLength="23.8">270.0</text>
<rect x="458.0" y="155.6" width="16.6" height="8.4" fill="#ff8400" stroke="#8a8a8a" stroke-width="0.5"/>
<text x="477.5" y="163.3" font-family="Liberation Sans, sans-serif" font-weight="bold" font-size="10.44" fill="#161616" stroke="#161616" stroke-width="0.15" lengthAdjust="spacingAndGlyphs" textLength="23.8">270.1</text>
<text x="509.0" y="163.3" font-family="Liberation Sans, sans-serif" font-weight="bold" font-size="10.44" fill="#161616" stroke="#161616" stroke-width="0.15" lengthAdjust="spacingAndGlyphs" text-anchor="middle">-</text>
<text x="515.3" y="163.3" font-family="Liberation Sans, sans-serif" font-weight="bold" font-size="10.44" fill="#161616" stroke="#161616" stroke-width="0.15" lengthAdjust="spacingAndGlyphs" textLength="23.8">305.4</text>
<rect x="458.0" y="167.0" width="16.6" height="8.4" fill="#ff0000" stroke="#8a8a8a" stroke-width="0.5"/>
<text x="477.5" y="174.7" font-family="Liberation Sans, sans-serif" font-weight="bold" font-size="10.44" fill="#161616" stroke="#161616" stroke-width="0.15" lengthAdjust="spacingAndGlyphs" textLength="23.8">305.5</text>
<text x="509.0" y="174.7" font-family="Liberation Sans, sans-serif" font-weight="bold" font-size="10.44" fill="#161616" stroke="#161616" stroke-width="0.15" lengthAdjust="spacingAndGlyphs" text-anchor="middle">-</text>
<text x="515.3" y="174.7" font-family="Liberation Sans, sans-serif" font-weight="bold" font-size="10.44" fill="#161616" stroke="#161616" stroke-width="0.15" lengthAdjust="spacingAndGlyphs" textLength="23.8">340.9</text>
<g transform="translate(27.8,217.6) rotate(4)">
<path d="M0,-10.8 L1.9,-2 L9.8,0 L1.9,2 L0,10.2 L-1.9,2 L-9.4,0 L-1.9,-2 Z" fill="#1a1a1a"/>
<circle r="4.2" fill="#fff" stroke="#1a1a1a" stroke-width="1.1"/>
<path d="M0,0 L0,-4.2 A4.2,4.2 0 0 1 4.2,0 Z" fill="#111"/>
<path d="M0,0 L0,4.2 A4.2,4.2 0 0 1 -4.2,0 Z" fill="#111"/>
</g>
<text x="28.5" y="205.4" font-family="Liberation Serif, serif" font-size="5.6" font-weight="bold" fill="#2a2a2a" text-anchor="middle">N</text>
<text x="27.5" y="233.2" font-family="Liberation Serif, serif" font-size="5.6" font-weight="bold" fill="#2a2a2a" text-anchor="middle">S</text>
<text x="15.1" y="219.3" font-family="Liberation Serif, serif" font-size="5.6" font-weight="bold" fill="#2a2a2a" text-anchor="middle">W</text>
<text x="40.0" y="220.1" font-family="Liberation Serif, serif" font-size="5.6" font-weight="bold" fill="#2a2a2a" text-anchor="middle">E</text>
<rect x="6.0" y="373.1" width="68.5" height="2.2" fill="#000"/>
<rect x="13.6" y="373.7" width="7.6" height="1.1" fill="#fff"/>
<rect x="28.8" y="373.7" width="22.8" height="1.1" fill="#fff"/>
<text x="6.3" y="370.9" font-family="Liberation Sans, sans-serif" font-size="4.6" fill="#555" text-anchor="middle">0</text>
<text x="17.7" y="370.9" font-family="Liberation Sans, sans-serif" font-size="4.6" fill="#555" text-anchor="middle">0.225</text>
<text x="29.1" y="370.9" font-family="Liberation Sans, sans-serif" font-size="4.6" fill="#555" text-anchor="middle">0.45</text>
<text x="52.0" y="370.9" font-family="Liberation Sans, sans-serif" font-size="4.6" fill="#555" text-anchor="middle">0.9</text>
<text x="74.8" y="370.9" font-family="Liberation Sans, sans-serif" font-size="4.6" fill="#555" text-anchor="middle">1.35</text>
<text x="75.6" y="375.9" font-family="Liberation Sans, sans-serif" font-size="4.6" fill="#555" textLength="19.5" lengthAdjust="spacingAndGlyphs">Kilometers</text>
<text x="210.9" y="278.3" font-family="Liberation Sans, sans-serif" font-weight="bold" font-size="14.2" fill="#111" stroke="#111" stroke-width="0.3" textLength="36.9" lengthAdjust="spacingAndGlyphs">(c) Cu</text>
<text x="213.6" y="297.4" font-family="Liberation Sans, sans-serif" font-size="8.6" fill="#3c3c48" textLength="49.1" lengthAdjust="spacingAndGlyphs">Nail samples</text>
<circle cx="202.4" cy="294.2" r="0.9" fill="#7a1a10"/>
<rect x="193.4" y="302.2" width="19.9" height="9.4" fill="#03ab03" stroke="#8a8a8a" stroke-width="0.5"/>
<text x="215.0" y="310.8" font-family="Liberation Sans, sans-serif" font-weight="bold" font-size="9.58" fill="#161616" stroke="#161616" stroke-width="0.15" lengthAdjust="spacingAndGlyphs" textLength="17.0">95.9</text>
<text x="237.7" y="310.8" font-family="Liberation Sans, sans-serif" font-weight="bold" font-size="9.58" fill="#161616" stroke="#161616" stroke-width="0.15" lengthAdjust="spacingAndGlyphs" text-anchor="middle">-</text>
<text x="243.9" y="310.8" font-family="Liberation Sans, sans-serif" font-weight="bold" font-size="9.58" fill="#161616" stroke="#161616" stroke-width="0.15" lengthAdjust="spacingAndGlyphs" textLength="26.7">1659.0</text>
<rect x="193.4" y="315.1" width="19.9" height="9.4" fill="#5cd300" stroke="#8a8a8a" stroke-width="0.5"/>
<text x="215.0" y="323.7" font-family="Liberation Sans, sans-serif" font-weight="bold" font-size="9.58" fill="#161616" stroke="#161616" stroke-width="0.15" lengthAdjust="spacingAndGlyphs" textLength="26.7">1659.1</text>
<text x="247.4" y="323.7" font-family="Liberation Sans, sans-serif" font-weight="bold" font-size="9.58" fill="#161616" stroke="#161616" stroke-width="0.15" lengthAdjust="spacingAndGlyphs" text-anchor="middle">-</text>
<text x="253.6" y="323.7" font-family="Liberation Sans, sans-serif" font-weight="bold" font-size="9.58" fill="#161616" stroke="#161616" stroke-width="0.15" lengthAdjust="spacingAndGlyphs" textLength="26.7">3222.2</text>
<rect x="193.4" y="328.3" width="19.9" height="9.4" fill="#ffff00" stroke="#8a8a8a" stroke-width="0.5"/>
<text x="215.0" y="336.9" font-family="Liberation Sans, sans-serif" font-weight="bold" font-size="9.58" fill="#161616" stroke="#161616" stroke-width="0.15" lengthAdjust="spacingAndGlyphs" textLength="26.7">3222.3</text>
<text x="247.4" y="336.9" font-family="Liberation Sans, sans-serif" font-weight="bold" font-size="9.58" fill="#161616" stroke="#161616" stroke-width="0.15" lengthAdjust="spacingAndGlyphs" text-anchor="middle">-</text>
<text x="253.6" y="336.9" font-family="Liberation Sans, sans-serif" font-weight="bold" font-size="9.58" fill="#161616" stroke="#161616" stroke-width="0.15" lengthAdjust="spacingAndGlyphs" textLength="26.7">4785.4</text>
<rect x="193.4" y="341.5" width="19.9" height="9.4" fill="#ff8400" stroke="#8a8a8a" stroke-width="0.5"/>
<text x="215.0" y="350.1" font-family="Liberation Sans, sans-serif" font-weight="bold" font-size="9.58" fill="#161616" stroke="#161616" stroke-width="0.15" lengthAdjust="spacingAndGlyphs" textLength="26.7">4785.5</text>
<text x="247.4" y="350.1" font-family="Liberation Sans, sans-serif" font-weight="bold" font-size="9.58" fill="#161616" stroke="#161616" stroke-width="0.15" lengthAdjust="spacingAndGlyphs" text-anchor="middle">-</text>
<text x="253.6" y="350.1" font-family="Liberation Sans, sans-serif" font-weight="bold" font-size="9.58" fill="#161616" stroke="#161616" stroke-width="0.15" lengthAdjust="spacingAndGlyphs" textLength="26.7">6348.5</text>
<rect x="193.4" y="354.4" width="19.9" height="9.4" fill="#ff0000" stroke="#8a8a8a" stroke-width="0.5"/>
<text x="215.0" y="363.0" font-family="Liberation Sans, sans-serif" font-weight="bold" font-size="9.58" fill="#161616" stroke="#161616" stroke-width="0.15" lengthAdjust="spacingAndGlyphs" textLength="26.7">6348.6</text>
<text x="247.4" y="363.0" font-family="Liberation Sans, sans-serif" font-weight="bold" font-size="9.58" fill="#161616" stroke="#161616" stroke-width="0.15" lengthAdjust="spacingAndGlyphs" text-anchor="middle">-</text>
<text x="253.6" y="363.0" font-family="Liberation Sans, sans-serif" font-weight="bold" font-size="9.58" fill="#161616" stroke="#161616" stroke-width="0.15" lengthAdjust="spacingAndGlyphs" textLength="26.7">7911.7</text>
<g transform="translate(307.4,219.1) rotate(4)">
<path d="M0,-10.8 L1.9,-2 L9.8,0 L1.9,2 L0,10.2 L-1.9,2 L-9.4,0 L-1.9,-2 Z" fill="#1a1a1a"/>
<circle r="4.2" fill="#fff" stroke="#1a1a1a" stroke-width="1.1"/>
<path d="M0,0 L0,-4.2 A4.2,4.2 0 0 1 4.2,0 Z" fill="#111"/>
<path d="M0,0 L0,4.2 A4.2,4.2 0 0 1 -4.2,0 Z" fill="#111"/>
</g>
<text x="308.1" y="206.9" font-family="Liberation Serif, serif" font-size="5.6" font-weight="bold" fill="#2a2a2a" text-anchor="middle">N</text>
<text x="307.1" y="234.7" font-family="Liberation Serif, serif" font-size="5.6" font-weight="bold" fill="#2a2a2a" text-anchor="middle">S</text>
<text x="294.7" y="220.8" font-family="Liberation Serif, serif" font-size="5.6" font-weight="bold" fill="#2a2a2a" text-anchor="middle">W</text>
<text x="319.6" y="221.6" font-family="Liberation Serif, serif" font-size="5.6" font-weight="bold" fill="#2a2a2a" text-anchor="middle">E</text>
<rect x="296.5" y="373.0" width="67.6" height="2.5" fill="#000"/>
<rect x="304.0" y="373.6" width="7.5" height="1.4" fill="#fff"/>
<rect x="319.0" y="373.6" width="22.5" height="1.4" fill="#fff"/>
<text x="296.8" y="370.8" font-family="Liberation Sans, sans-serif" font-size="4.6" fill="#555" text-anchor="middle">0</text>
<text x="308.1" y="370.8" font-family="Liberation Sans, sans-serif" font-size="4.6" fill="#555" text-anchor="middle">0.225</text>
<text x="319.3" y="370.8" font-family="Liberation Sans, sans-serif" font-size="4.6" fill="#555" text-anchor="middle">0.45</text>
<text x="341.9" y="370.8" font-family="Liberation Sans, sans-serif" font-size="4.6" fill="#555" text-anchor="middle">0.9</text>
<text x="364.4" y="370.8" font-family="Liberation Sans, sans-serif" font-size="4.6" fill="#555" text-anchor="middle">1.35</text>
<text x="365.2" y="376.1" font-family="Liberation Sans, sans-serif" font-size="4.6" fill="#555" textLength="19.5" lengthAdjust="spacingAndGlyphs">Kilometers</text>
<text x="482.2" y="279.4" font-family="Liberation Sans, sans-serif" font-weight="bold" font-size="14.2" fill="#111" stroke="#111" stroke-width="0.3" textLength="45.3" lengthAdjust="spacingAndGlyphs">(d) Mo</text>
<text x="482.8" y="295.4" font-family="Liberation Sans, sans-serif" font-size="8.6" fill="#3c3c48" textLength="49.1" lengthAdjust="spacingAndGlyphs">Nail samples</text>
<circle cx="470.8" cy="292.2" r="0.9" fill="#7a1a10"/>
<rect x="465.0" y="299.9" width="19.7" height="9.2" fill="#03ab03" stroke="#8a8a8a" stroke-width="0.5"/>
<text x="488.0" y="308.4" font-family="Liberation Sans, sans-serif" font-weight="bold" font-size="10.72" fill="#161616" stroke="#161616" stroke-width="0.15" lengthAdjust="spacingAndGlyphs" textLength="19.0">38.3</text>
<text x="514.1" y="308.4" font-family="Liberation Sans, sans-serif" font-weight="bold" font-size="10.72" fill="#161616" stroke="#161616" stroke-width="0.15" lengthAdjust="spacingAndGlyphs" text-anchor="middle">-</text>
<text x="520.4" y="308.4" font-family="Liberation Sans, sans-serif" font-weight="bold" font-size="10.72" fill="#161616" stroke="#161616" stroke-width="0.15" lengthAdjust="spacingAndGlyphs" textLength="19.0">49.7</text>
<rect x="465.0" y="313.2" width="19.7" height="9.2" fill="#5cd300" stroke="#8a8a8a" stroke-width="0.5"/>
<text x="488.0" y="321.7" font-family="Liberation Sans, sans-serif" font-weight="bold" font-size="10.72" fill="#161616" stroke="#161616" stroke-width="0.15" lengthAdjust="spacingAndGlyphs" textLength="19.0">49.8</text>
<text x="514.1" y="321.7" font-family="Liberation Sans, sans-serif" font-weight="bold" font-size="10.72" fill="#161616" stroke="#161616" stroke-width="0.15" lengthAdjust="spacingAndGlyphs" text-anchor="middle">-</text>
<text x="520.4" y="321.7" font-family="Liberation Sans, sans-serif" font-weight="bold" font-size="10.72" fill="#161616" stroke="#161616" stroke-width="0.15" lengthAdjust="spacingAndGlyphs" textLength="19.0">61.1</text>
<rect x="465.0" y="326.2" width="19.7" height="9.2" fill="#ffff00" stroke="#8a8a8a" stroke-width="0.5"/>
<text x="488.0" y="334.7" font-family="Liberation Sans, sans-serif" font-weight="bold" font-size="10.72" fill="#161616" stroke="#161616" stroke-width="0.15" lengthAdjust="spacingAndGlyphs" textLength="19.0">61.2</text>
<text x="514.1" y="334.7" font-family="Liberation Sans, sans-serif" font-weight="bold" font-size="10.72" fill="#161616" stroke="#161616" stroke-width="0.15" lengthAdjust="spacingAndGlyphs" text-anchor="middle">-</text>
<text x="520.4" y="334.7" font-family="Liberation Sans, sans-serif" font-weight="bold" font-size="10.72" fill="#161616" stroke="#161616" stroke-width="0.15" lengthAdjust="spacingAndGlyphs" textLength="19.0">72.6</text>
<rect x="465.0" y="339.6" width="19.7" height="9.2" fill="#ff8400" stroke="#8a8a8a" stroke-width="0.5"/>
<text x="488.0" y="348.1" font-family="Liberation Sans, sans-serif" font-weight="bold" font-size="10.72" fill="#161616" stroke="#161616" stroke-width="0.15" lengthAdjust="spacingAndGlyphs" textLength="19.0">72.7</text>
<text x="514.1" y="348.1" font-family="Liberation Sans, sans-serif" font-weight="bold" font-size="10.72" fill="#161616" stroke="#161616" stroke-width="0.15" lengthAdjust="spacingAndGlyphs" text-anchor="middle">-</text>
<text x="520.4" y="348.1" font-family="Liberation Sans, sans-serif" font-weight="bold" font-size="10.72" fill="#161616" stroke="#161616" stroke-width="0.15" lengthAdjust="spacingAndGlyphs" textLength="19.0">84.0</text>
<rect x="465.0" y="352.7" width="19.7" height="9.2" fill="#ff0000" stroke="#8a8a8a" stroke-width="0.5"/>
<text x="488.0" y="361.2" font-family="Liberation Sans, sans-serif" font-weight="bold" font-size="10.72" fill="#161616" stroke="#161616" stroke-width="0.15" lengthAdjust="spacingAndGlyphs" textLength="19.0">84.1</text>
<text x="514.1" y="361.2" font-family="Liberation Sans, sans-serif" font-weight="bold" font-size="10.72" fill="#161616" stroke="#161616" stroke-width="0.15" lengthAdjust="spacingAndGlyphs" text-anchor="middle">-</text>
<text x="520.4" y="361.2" font-family="Liberation Sans, sans-serif" font-weight="bold" font-size="10.72" fill="#161616" stroke="#161616" stroke-width="0.15" lengthAdjust="spacingAndGlyphs" textLength="19.0">95.5</text>
<g transform="translate(27.6,417.6) rotate(4)">
<path d="M0,-10.8 L1.9,-2 L9.8,0 L1.9,2 L0,10.2 L-1.9,2 L-9.4,0 L-1.9,-2 Z" fill="#1a1a1a"/>
<circle r="4.2" fill="#fff" stroke="#1a1a1a" stroke-width="1.1"/>
<path d="M0,0 L0,-4.2 A4.2,4.2 0 0 1 4.2,0 Z" fill="#111"/>
<path d="M0,0 L0,4.2 A4.2,4.2 0 0 1 -4.2,0 Z" fill="#111"/>
</g>
<text x="28.3" y="405.4" font-family="Liberation Serif, serif" font-size="5.6" font-weight="bold" fill="#2a2a2a" text-anchor="middle">N</text>
<text x="27.3" y="433.2" font-family="Liberation Serif, serif" font-size="5.6" font-weight="bold" fill="#2a2a2a" text-anchor="middle">S</text>
<text x="14.9" y="419.3" font-family="Liberation Serif, serif" font-size="5.6" font-weight="bold" fill="#2a2a2a" text-anchor="middle">W</text>
<text x="39.8" y="420.1" font-family="Liberation Serif, serif" font-size="5.6" font-weight="bold" fill="#2a2a2a" text-anchor="middle">E</text>
<rect x="6.9" y="578.5" width="67.6" height="2.8" fill="#000"/>
<rect x="14.4" y="579.0" width="7.5" height="1.7" fill="#fff"/>
<rect x="29.4" y="579.0" width="22.5" height="1.7" fill="#fff"/>
<text x="7.2" y="576.3" font-family="Liberation Sans, sans-serif" font-size="4.6" fill="#555" text-anchor="middle">0</text>
<text x="18.5" y="576.3" font-family="Liberation Sans, sans-serif" font-size="4.6" fill="#555" text-anchor="middle">0.225</text>
<text x="29.7" y="576.3" font-family="Liberation Sans, sans-serif" font-size="4.6" fill="#555" text-anchor="middle">0.45</text>
<text x="52.3" y="576.3" font-family="Liberation Sans, sans-serif" font-size="4.6" fill="#555" text-anchor="middle">0.9</text>
<text x="74.8" y="576.3" font-family="Liberation Sans, sans-serif" font-size="4.6" fill="#555" text-anchor="middle">1.35</text>
<text x="75.6" y="581.9" font-family="Liberation Sans, sans-serif" font-size="4.6" fill="#555" textLength="19.5" lengthAdjust="spacingAndGlyphs">Kilometers</text>
<text x="210.9" y="478.3" font-family="Liberation Sans, sans-serif" font-weight="bold" font-size="14.2" fill="#111" stroke="#111" stroke-width="0.3" textLength="38.8" lengthAdjust="spacingAndGlyphs">(e) Pb</text>
<text x="215.9" y="497.3" font-family="Liberation Sans, sans-serif" font-size="8.6" fill="#3c3c48" textLength="48.5" lengthAdjust="spacingAndGlyphs">Nail samples</text>
<circle cx="203.9" cy="494.1" r="0.9" fill="#7a1a10"/>
<rect x="197.2" y="503.1" width="18.7" height="8.7" fill="#03ab03" stroke="#8a8a8a" stroke-width="0.5"/>
<text x="219.1" y="511.1" font-family="Liberation Sans, sans-serif" font-weight="bold" font-size="9.26" fill="#161616" stroke="#161616" stroke-width="0.15" lengthAdjust="spacingAndGlyphs" textLength="21.1">527.0</text>
<text x="246.7" y="511.1" font-family="Liberation Sans, sans-serif" font-weight="bold" font-size="9.26" fill="#161616" stroke="#161616" stroke-width="0.15" lengthAdjust="spacingAndGlyphs" text-anchor="middle">-</text>
<text x="252.6" y="511.1" font-family="Liberation Sans, sans-serif" font-weight="bold" font-size="9.26" fill="#161616" stroke="#161616" stroke-width="0.15" lengthAdjust="spacingAndGlyphs" textLength="21.1">702.8</text>
<rect x="197.2" y="516.1" width="18.7" height="8.7" fill="#5cd300" stroke="#8a8a8a" stroke-width="0.5"/>
<text x="219.1" y="524.1" font-family="Liberation Sans, sans-serif" font-weight="bold" font-size="9.26" fill="#161616" stroke="#161616" stroke-width="0.15" lengthAdjust="spacingAndGlyphs" textLength="21.1">702.9</text>
<text x="246.7" y="524.1" font-family="Liberation Sans, sans-serif" font-weight="bold" font-size="9.26" fill="#161616" stroke="#161616" stroke-width="0.15" lengthAdjust="spacingAndGlyphs" text-anchor="middle">-</text>
<text x="252.6" y="524.1" font-family="Liberation Sans, sans-serif" font-weight="bold" font-size="9.26" fill="#161616" stroke="#161616" stroke-width="0.15" lengthAdjust="spacingAndGlyphs" textLength="21.1">878.6</text>
<rect x="197.2" y="529.1" width="18.7" height="8.7" fill="#ffff00" stroke="#8a8a8a" stroke-width="0.5"/>
<text x="219.1" y="537.1" font-family="Liberation Sans, sans-serif" font-weight="bold" font-size="9.26" fill="#161616" stroke="#161616" stroke-width="0.15" lengthAdjust="spacingAndGlyphs" textLength="21.1">878.7</text>
<text x="246.7" y="537.1" font-family="Liberation Sans, sans-serif" font-weight="bold" font-size="9.26" fill="#161616" stroke="#161616" stroke-width="0.15" lengthAdjust="spacingAndGlyphs" text-anchor="middle">-</text>
<text x="252.6" y="537.1" font-family="Liberation Sans, sans-serif" font-weight="bold" font-size="9.26" fill="#161616" stroke="#161616" stroke-width="0.15" lengthAdjust="spacingAndGlyphs" textLength="25.8">1054.4</text>
<rect x="197.2" y="541.9" width="18.7" height="8.7" fill="#ff8400" stroke="#8a8a8a" stroke-width="0.5"/>
<text x="219.1" y="549.9" font-family="Liberation Sans, sans-serif" font-weight="bold" font-size="9.26" fill="#161616" stroke="#161616" stroke-width="0.15" lengthAdjust="spacingAndGlyphs" textLength="25.8">1054.5</text>
<text x="251.4" y="549.9" font-family="Liberation Sans, sans-serif" font-weight="bold" font-size="9.26" fill="#161616" stroke="#161616" stroke-width="0.15" lengthAdjust="spacingAndGlyphs" text-anchor="middle">-</text>
<text x="257.3" y="549.9" font-family="Liberation Sans, sans-serif" font-weight="bold" font-size="9.26" fill="#161616" stroke="#161616" stroke-width="0.15" lengthAdjust="spacingAndGlyphs" textLength="25.8">1230.2</text>
<rect x="197.2" y="554.7" width="18.7" height="8.7" fill="#ff0000" stroke="#8a8a8a" stroke-width="0.5"/>
<text x="219.1" y="562.7" font-family="Liberation Sans, sans-serif" font-weight="bold" font-size="9.26" fill="#161616" stroke="#161616" stroke-width="0.15" lengthAdjust="spacingAndGlyphs" textLength="25.8">1230.3</text>
<text x="251.4" y="562.7" font-family="Liberation Sans, sans-serif" font-weight="bold" font-size="9.26" fill="#161616" stroke="#161616" stroke-width="0.15" lengthAdjust="spacingAndGlyphs" text-anchor="middle">-</text>
<text x="257.3" y="562.7" font-family="Liberation Sans, sans-serif" font-weight="bold" font-size="9.26" fill="#161616" stroke="#161616" stroke-width="0.15" lengthAdjust="spacingAndGlyphs" textLength="25.8">1406.1</text>
<g transform="translate(306.8,417.7) rotate(4)">
<path d="M0,-10.8 L1.9,-2 L9.8,0 L1.9,2 L0,10.2 L-1.9,2 L-9.4,0 L-1.9,-2 Z" fill="#1a1a1a"/>
<circle r="4.2" fill="#fff" stroke="#1a1a1a" stroke-width="1.1"/>
<path d="M0,0 L0,-4.2 A4.2,4.2 0 0 1 4.2,0 Z" fill="#111"/>
<path d="M0,0 L0,4.2 A4.2,4.2 0 0 1 -4.2,0 Z" fill="#111"/>
</g>
<text x="307.5" y="405.5" font-family="Liberation Serif, serif" font-size="5.6" font-weight="bold" fill="#2a2a2a" text-anchor="middle">N</text>
<text x="306.5" y="433.3" font-family="Liberation Serif, serif" font-size="5.6" font-weight="bold" fill="#2a2a2a" text-anchor="middle">S</text>
<text x="294.1" y="419.4" font-family="Liberation Serif, serif" font-size="5.6" font-weight="bold" fill="#2a2a2a" text-anchor="middle">W</text>
<text x="319.0" y="420.2" font-family="Liberation Serif, serif" font-size="5.6" font-weight="bold" fill="#2a2a2a" text-anchor="middle">E</text>
<rect x="297.2" y="574.5" width="68.7" height="2.8" fill="#000"/>
<rect x="304.8" y="575.0" width="7.6" height="1.7" fill="#fff"/>
<rect x="320.1" y="575.0" width="22.9" height="1.7" fill="#fff"/>
<text x="297.5" y="572.3" font-family="Liberation Sans, sans-serif" font-size="4.6" fill="#555" text-anchor="middle">0</text>
<text x="308.9" y="572.3" font-family="Liberation Sans, sans-serif" font-size="4.6" fill="#555" text-anchor="middle">0.225</text>
<text x="320.4" y="572.3" font-family="Liberation Sans, sans-serif" font-size="4.6" fill="#555" text-anchor="middle">0.45</text>
<text x="343.3" y="572.3" font-family="Liberation Sans, sans-serif" font-size="4.6" fill="#555" text-anchor="middle">0.9</text>
<text x="366.2" y="572.3" font-family="Liberation Sans, sans-serif" font-size="4.6" fill="#555" text-anchor="middle">1.35</text>
<text x="367.0" y="577.9" font-family="Liberation Sans, sans-serif" font-size="4.6" fill="#555" textLength="19.5" lengthAdjust="spacingAndGlyphs">Kilometers</text>
<text x="483.2" y="478.9" font-family="Liberation Sans, sans-serif" font-weight="bold" font-size="14.2" fill="#111" stroke="#111" stroke-width="0.3" textLength="34.3" lengthAdjust="spacingAndGlyphs">(f) Se</text>
<text x="488.0" y="498.7" font-family="Liberation Sans, sans-serif" font-size="8.6" fill="#3c3c48" textLength="48.6" lengthAdjust="spacingAndGlyphs">Nail samples</text>
<circle cx="475.9" cy="495.5" r="0.9" fill="#7a1a10"/>
<rect x="461.2" y="503.7" width="19.7" height="9.0" fill="#03ab03" stroke="#8a8a8a" stroke-width="0.5"/>
<text x="484.1" y="512.0" font-family="Liberation Sans, sans-serif" font-weight="bold" font-size="10.04" fill="#161616" stroke="#161616" stroke-width="0.15" lengthAdjust="spacingAndGlyphs" textLength="22.9">736.2</text>
<text x="514.1" y="512.0" font-family="Liberation Sans, sans-serif" font-weight="bold" font-size="10.04" fill="#161616" stroke="#161616" stroke-width="0.15" lengthAdjust="spacingAndGlyphs" text-anchor="middle">-</text>
<text x="521.0" y="512.0" font-family="Liberation Sans, sans-serif" font-weight="bold" font-size="10.04" fill="#161616" stroke="#161616" stroke-width="0.15" lengthAdjust="spacingAndGlyphs" textLength="22.9">777.7</text>
<rect x="461.2" y="517.0" width="19.7" height="9.0" fill="#5cd300" stroke="#8a8a8a" stroke-width="0.5"/>
<text x="484.1" y="525.3" font-family="Liberation Sans, sans-serif" font-weight="bold" font-size="10.04" fill="#161616" stroke="#161616" stroke-width="0.15" lengthAdjust="spacingAndGlyphs" textLength="22.9">777.8</text>
<text x="514.1" y="525.3" font-family="Liberation Sans, sans-serif" font-weight="bold" font-size="10.04" fill="#161616" stroke="#161616" stroke-width="0.15" lengthAdjust="spacingAndGlyphs" text-anchor="middle">-</text>
<text x="521.0" y="525.3" font-family="Liberation Sans, sans-serif" font-weight="bold" font-size="10.04" fill="#161616" stroke="#161616" stroke-width="0.15" lengthAdjust="spacingAndGlyphs" textLength="22.9">819.3</text>
<rect x="461.2" y="529.8" width="19.7" height="9.0" fill="#ffff00" stroke="#8a8a8a" stroke-width="0.5"/>
<text x="484.1" y="538.1" font-family="Liberation Sans, sans-serif" font-weight="bold" font-size="10.04" fill="#161616" stroke="#161616" stroke-width="0.15" lengthAdjust="spacingAndGlyphs" textLength="22.9">819.4</text>
<text x="514.1" y="538.1" font-family="Liberation Sans, sans-serif" font-weight="bold" font-size="10.04" fill="#161616" stroke="#161616" stroke-width="0.15" lengthAdjust="spacingAndGlyphs" text-anchor="middle">-</text>
<text x="521.0" y="538.1" font-family="Liberation Sans, sans-serif" font-weight="bold" font-size="10.04" fill="#161616" stroke="#161616" stroke-width="0.15" lengthAdjust="spacingAndGlyphs" textLength="22.9">860.8</text>
<rect x="461.2" y="542.8" width="19.7" height="9.0" fill="#ff8400" stroke="#8a8a8a" stroke-width="0.5"/>
<text x="484.1" y="551.1" font-family="Liberation Sans, sans-serif" font-weight="bold" font-size="10.04" fill="#161616" stroke="#161616" stroke-width="0.15" lengthAdjust="spacingAndGlyphs" textLength="22.9">860.9</text>
<text x="514.1" y="551.1" font-family="Liberation Sans, sans-serif" font-weight="bold" font-size="10.04" fill="#161616" stroke="#161616" stroke-width="0.15" lengthAdjust="spacingAndGlyphs" text-anchor="middle">-</text>
<text x="521.0" y="551.1" font-family="Liberation Sans, sans-serif" font-weight="bold" font-size="10.04" fill="#161616" stroke="#161616" stroke-width="0.15" lengthAdjust="spacingAndGlyphs" textLength="22.9">902.3</text>
<rect x="461.2" y="556.2" width="19.7" height="9.0" fill="#ff0000" stroke="#8a8a8a" stroke-width="0.5"/>
<text x="484.1" y="564.5" font-family="Liberation Sans, sans-serif" font-weight="bold" font-size="10.04" fill="#161616" stroke="#161616" stroke-width="0.15" lengthAdjust="spacingAndGlyphs" textLength="22.9">902.4</text>
<text x="514.1" y="564.5" font-family="Liberation Sans, sans-serif" font-weight="bold" font-size="10.04" fill="#161616" stroke="#161616" stroke-width="0.15" lengthAdjust="spacingAndGlyphs" text-anchor="middle">-</text>
<text x="521.0" y="564.5" font-family="Liberation Sans, sans-serif" font-weight="bold" font-size="10.04" fill="#161616" stroke="#161616" stroke-width="0.15" lengthAdjust="spacingAndGlyphs" textLength="22.9">943.9</text>
<g transform="translate(27.6,616.8) rotate(4)">
<path d="M0,-10.8 L1.9,-2 L9.8,0 L1.9,2 L0,10.2 L-1.9,2 L-9.4,0 L-1.9,-2 Z" fill="#1a1a1a"/>
<circle r="4.2" fill="#fff" stroke="#1a1a1a" stroke-width="1.1"/>
<path d="M0,0 L0,-4.2 A4.2,4.2 0 0 1 4.2,0 Z" fill="#111"/>
<path d="M0,0 L0,4.2 A4.2,4.2 0 0 1 -4.2,0 Z" fill="#111"/>
</g>
<text x="28.3" y="604.6" font-family="Liberation Serif, serif" font-size="5.6" font-weight="bold" fill="#2a2a2a" text-anchor="middle">N</text>
<text x="27.3" y="632.4" font-family="Liberation Serif, serif" font-size="5.6" font-weight="bold" fill="#2a2a2a" text-anchor="middle">S</text>
<text x="14.9" y="618.5" font-family="Liberation Serif, serif" font-size="5.6" font-weight="bold" fill="#2a2a2a" text-anchor="middle">W</text>
<text x="39.8" y="619.3" font-family="Liberation Serif, serif" font-size="5.6" font-weight="bold" fill="#2a2a2a" text-anchor="middle">E</text>
<rect x="8.2" y="773.6" width="67.3" height="2.8" fill="#000"/>
<rect x="15.7" y="774.1" width="7.5" height="1.7" fill="#fff"/>
<rect x="30.6" y="774.1" width="22.4" height="1.7" fill="#fff"/>
<text x="8.5" y="771.4" font-family="Liberation Sans, sans-serif" font-size="4.6" fill="#555" text-anchor="middle">0</text>
<text x="19.7" y="771.4" font-family="Liberation Sans, sans-serif" font-size="4.6" fill="#555" text-anchor="middle">0.225</text>
<text x="30.9" y="771.4" font-family="Liberation Sans, sans-serif" font-size="4.6" fill="#555" text-anchor="middle">0.45</text>
<text x="53.4" y="771.4" font-family="Liberation Sans, sans-serif" font-size="4.6" fill="#555" text-anchor="middle">0.9</text>
<text x="75.8" y="771.4" font-family="Liberation Sans, sans-serif" font-size="4.6" fill="#555" text-anchor="middle">1.35</text>
<text x="76.6" y="777.0" font-family="Liberation Sans, sans-serif" font-size="4.6" fill="#555" textLength="19.5" lengthAdjust="spacingAndGlyphs">Kilometers</text>
<text x="210.9" y="679.8" font-family="Liberation Sans, sans-serif" font-weight="bold" font-size="14.2" fill="#111" stroke="#111" stroke-width="0.3" textLength="36.9" lengthAdjust="spacingAndGlyphs">(g) Zn</text>
<text x="215.9" y="699.2" font-family="Liberation Sans, sans-serif" font-size="8.6" fill="#3c3c48" textLength="48.5" lengthAdjust="spacingAndGlyphs">Nail samples</text>
<circle cx="203.9" cy="696.0" r="0.9" fill="#7a1a10"/>
<rect x="188.6" y="703.7" width="18.5" height="8.8" fill="#03ab03" stroke="#8a8a8a" stroke-width="0.5"/>
<text x="209.0" y="711.8" font-family="Liberation Sans, sans-serif" font-weight="bold" font-size="8.15" fill="#161616" stroke="#161616" stroke-width="0.15" lengthAdjust="spacingAndGlyphs" textLength="28.9">90,629.2</text>
<text x="243.5" y="711.8" font-family="Liberation Sans, sans-serif" font-weight="bold" font-size="8.15" fill="#161616" stroke="#161616" stroke-width="0.15" lengthAdjust="spacingAndGlyphs" text-anchor="middle">-</text>
<text x="248.4" y="711.8" font-family="Liberation Sans, sans-serif" font-weight="bold" font-size="8.15" fill="#161616" stroke="#161616" stroke-width="0.15" lengthAdjust="spacingAndGlyphs" textLength="28.9">96,641.4</text>
<rect x="188.6" y="716.1" width="18.5" height="8.8" fill="#5cd300" stroke="#8a8a8a" stroke-width="0.5"/>
<text x="209.0" y="724.2" font-family="Liberation Sans, sans-serif" font-weight="bold" font-size="8.15" fill="#161616" stroke="#161616" stroke-width="0.15" lengthAdjust="spacingAndGlyphs" textLength="28.9">96,641.5</text>
<text x="243.5" y="724.2" font-family="Liberation Sans, sans-serif" font-weight="bold" font-size="8.15" fill="#161616" stroke="#161616" stroke-width="0.15" lengthAdjust="spacingAndGlyphs" text-anchor="middle">-</text>
<text x="248.4" y="724.2" font-family="Liberation Sans, sans-serif" font-weight="bold" font-size="8.15" fill="#161616" stroke="#161616" stroke-width="0.15" lengthAdjust="spacingAndGlyphs" textLength="33.0">102,653.8</text>
<rect x="188.6" y="728.5" width="18.5" height="8.8" fill="#ffff00" stroke="#8a8a8a" stroke-width="0.5"/>
<text x="209.0" y="736.6" font-family="Liberation Sans, sans-serif" font-weight="bold" font-size="8.15" fill="#161616" stroke="#161616" stroke-width="0.15" lengthAdjust="spacingAndGlyphs" textLength="33.0">102,653.9</text>
<text x="247.6" y="736.6" font-family="Liberation Sans, sans-serif" font-weight="bold" font-size="8.15" fill="#161616" stroke="#161616" stroke-width="0.15" lengthAdjust="spacingAndGlyphs" text-anchor="middle">-</text>
<text x="252.5" y="736.6" font-family="Liberation Sans, sans-serif" font-weight="bold" font-size="8.15" fill="#161616" stroke="#161616" stroke-width="0.15" lengthAdjust="spacingAndGlyphs" textLength="33.0">108,665.9</text>
<rect x="188.6" y="741.3" width="18.5" height="8.8" fill="#ff8400" stroke="#8a8a8a" stroke-width="0.5"/>
<text x="209.0" y="749.4" font-family="Liberation Sans, sans-serif" font-weight="bold" font-size="8.15" fill="#161616" stroke="#161616" stroke-width="0.15" lengthAdjust="spacingAndGlyphs" textLength="33.0">108,666.0</text>
<text x="247.6" y="749.4" font-family="Liberation Sans, sans-serif" font-weight="bold" font-size="8.15" fill="#161616" stroke="#161616" stroke-width="0.15" lengthAdjust="spacingAndGlyphs" text-anchor="middle">-</text>
<text x="252.5" y="749.4" font-family="Liberation Sans, sans-serif" font-weight="bold" font-size="8.15" fill="#161616" stroke="#161616" stroke-width="0.15" lengthAdjust="spacingAndGlyphs" textLength="33.0">114,675.2</text>
<rect x="188.6" y="753.9" width="18.5" height="8.8" fill="#ff0000" stroke="#8a8a8a" stroke-width="0.5"/>
<text x="209.0" y="762.0" font-family="Liberation Sans, sans-serif" font-weight="bold" font-size="8.15" fill="#161616" stroke="#161616" stroke-width="0.15" lengthAdjust="spacingAndGlyphs" textLength="33.0">114,678.3</text>
<text x="247.6" y="762.0" font-family="Liberation Sans, sans-serif" font-weight="bold" font-size="8.15" fill="#161616" stroke="#161616" stroke-width="0.15" lengthAdjust="spacingAndGlyphs" text-anchor="middle">-</text>
<text x="252.5" y="762.0" font-family="Liberation Sans, sans-serif" font-weight="bold" font-size="8.15" fill="#161616" stroke="#161616" stroke-width="0.15" lengthAdjust="spacingAndGlyphs" textLength="33.0">120,690.5</text>
<g transform="translate(309.9,609.5) rotate(4)">
<path d="M0,-10.8 L1.9,-2 L9.8,0 L1.9,2 L0,10.2 L-1.9,2 L-9.4,0 L-1.9,-2 Z" fill="#1a1a1a"/>
<circle r="4.2" fill="#fff" stroke="#1a1a1a" stroke-width="1.1"/>
<path d="M0,0 L0,-4.2 A4.2,4.2 0 0 1 4.2,0 Z" fill="#111"/>
<path d="M0,0 L0,4.2 A4.2,4.2 0 0 1 -4.2,0 Z" fill="#111"/>
</g>
<text x="310.6" y="597.3" font-family="Liberation Serif, serif" font-size="5.6" font-weight="bold" fill="#2a2a2a" text-anchor="middle">N</text>
<text x="309.6" y="625.1" font-family="Liberation Serif, serif" font-size="5.6" font-weight="bold" fill="#2a2a2a" text-anchor="middle">S</text>
<text x="297.2" y="611.2" font-family="Liberation Serif, serif" font-size="5.6" font-weight="bold" fill="#2a2a2a" text-anchor="middle">W</text>
<text x="322.1" y="612.0" font-family="Liberation Serif, serif" font-size="5.6" font-weight="bold" fill="#2a2a2a" text-anchor="middle">E</text>
<rect x="298.3" y="774.0" width="67.6" height="2.4" fill="#000"/>
<rect x="305.8" y="774.5" width="7.5" height="1.3" fill="#fff"/>
<rect x="320.8" y="774.5" width="22.5" height="1.3" fill="#fff"/>
<text x="298.6" y="771.8" font-family="Liberation Sans, sans-serif" font-size="4.6" fill="#555" text-anchor="middle">0</text>
<text x="309.9" y="771.8" font-family="Liberation Sans, sans-serif" font-size="4.6" fill="#555" text-anchor="middle">0.225</text>
<text x="321.1" y="771.8" font-family="Liberation Sans, sans-serif" font-size="4.6" fill="#555" text-anchor="middle">0.45</text>
<text x="343.7" y="771.8" font-family="Liberation Sans, sans-serif" font-size="4.6" fill="#555" text-anchor="middle">0.9</text>
<text x="366.2" y="771.8" font-family="Liberation Sans, sans-serif" font-size="4.6" fill="#555" text-anchor="middle">1.35</text>
<text x="367.0" y="777.0" font-family="Liberation Sans, sans-serif" font-size="4.6" fill="#555" textLength="19.5" lengthAdjust="spacingAndGlyphs">Kilometers</text>
<text x="483.2" y="680.2" font-family="Liberation Sans, sans-serif" font-weight="bold" font-size="14.2" fill="#111" stroke="#111" stroke-width="0.3" textLength="45.8" lengthAdjust="spacingAndGlyphs">(h) PC2</text>
<text x="485.5" y="699.2" font-family="Liberation Sans, sans-serif" font-size="8.6" fill="#3c3c48" textLength="48.8" lengthAdjust="spacingAndGlyphs">Nail samples</text>
<circle cx="473.6" cy="696.0" r="0.9" fill="#7a1a10"/>
<rect x="465.0" y="704.6" width="17.2" height="8.3" fill="#03ab03" stroke="#8a8a8a" stroke-width="0.5"/>
<text x="485.5" y="712.2" font-family="Liberation Sans, sans-serif" font-weight="bold" font-size="10.10" fill="#161616" stroke="#161616" stroke-width="0.15" lengthAdjust="spacingAndGlyphs" textLength="21.0">-0.62</text>
<text x="513.2" y="712.2" font-family="Liberation Sans, sans-serif" font-weight="bold" font-size="10.10" fill="#161616" stroke="#161616" stroke-width="0.15" lengthAdjust="spacingAndGlyphs" text-anchor="middle">-</text>
<text x="519.8" y="712.2" font-family="Liberation Sans, sans-serif" font-weight="bold" font-size="10.10" fill="#161616" stroke="#161616" stroke-width="0.15" lengthAdjust="spacingAndGlyphs" textLength="21.0">-0.37</text>
<rect x="465.0" y="717.6" width="17.2" height="8.3" fill="#5cd300" stroke="#8a8a8a" stroke-width="0.5"/>
<text x="485.5" y="725.2" font-family="Liberation Sans, sans-serif" font-weight="bold" font-size="10.10" fill="#161616" stroke="#161616" stroke-width="0.15" lengthAdjust="spacingAndGlyphs" textLength="21.0">-0.36</text>
<text x="513.2" y="725.2" font-family="Liberation Sans, sans-serif" font-weight="bold" font-size="10.10" fill="#161616" stroke="#161616" stroke-width="0.15" lengthAdjust="spacingAndGlyphs" text-anchor="middle">-</text>
<text x="519.8" y="725.2" font-family="Liberation Sans, sans-serif" font-weight="bold" font-size="10.10" fill="#161616" stroke="#161616" stroke-width="0.15" lengthAdjust="spacingAndGlyphs" textLength="17.9">0.11</text>
<rect x="465.0" y="730.4" width="17.2" height="8.3" fill="#ffff00" stroke="#8a8a8a" stroke-width="0.5"/>
<text x="485.5" y="738.0" font-family="Liberation Sans, sans-serif" font-weight="bold" font-size="10.10" fill="#161616" stroke="#161616" stroke-width="0.15" lengthAdjust="spacingAndGlyphs" textLength="15.9">-0.1</text>
<text x="508.1" y="738.0" font-family="Liberation Sans, sans-serif" font-weight="bold" font-size="10.10" fill="#161616" stroke="#161616" stroke-width="0.15" lengthAdjust="spacingAndGlyphs" text-anchor="middle">-</text>
<text x="514.7" y="738.0" font-family="Liberation Sans, sans-serif" font-weight="bold" font-size="10.10" fill="#161616" stroke="#161616" stroke-width="0.15" lengthAdjust="spacingAndGlyphs" textLength="17.9">0.15</text>
<rect x="465.0" y="743.2" width="17.2" height="8.3" fill="#ff8400" stroke="#8a8a8a" stroke-width="0.5"/>
<text x="485.5" y="750.8" font-family="Liberation Sans, sans-serif" font-weight="bold" font-size="10.10" fill="#161616" stroke="#161616" stroke-width="0.15" lengthAdjust="spacingAndGlyphs" textLength="17.9">0.16</text>
<text x="510.1" y="750.8" font-family="Liberation Sans, sans-serif" font-weight="bold" font-size="10.10" fill="#161616" stroke="#161616" stroke-width="0.15" lengthAdjust="spacingAndGlyphs" text-anchor="middle">-</text>
<text x="516.7" y="750.8" font-family="Liberation Sans, sans-serif" font-weight="bold" font-size="10.10" fill="#161616" stroke="#161616" stroke-width="0.15" lengthAdjust="spacingAndGlyphs" textLength="17.9">0.41</text>
<rect x="465.0" y="756.2" width="17.2" height="8.3" fill="#ff0000" stroke="#8a8a8a" stroke-width="0.5"/>
<text x="485.5" y="763.8" font-family="Liberation Sans, sans-serif" font-weight="bold" font-size="10.10" fill="#161616" stroke="#161616" stroke-width="0.15" lengthAdjust="spacingAndGlyphs" textLength="17.9">0.42</text>
<text x="510.1" y="763.8" font-family="Liberation Sans, sans-serif" font-weight="bold" font-size="10.10" fill="#161616" stroke="#161616" stroke-width="0.15" lengthAdjust="spacingAndGlyphs" text-anchor="middle">-</text>
<text x="516.7" y="763.8" font-family="Liberation Sans, sans-serif" font-weight="bold" font-size="10.10" fill="#161616" stroke="#161616" stroke-width="0.15" lengthAdjust="spacingAndGlyphs" textLength="17.9">0.66</text>
</svg>
</body></html>
